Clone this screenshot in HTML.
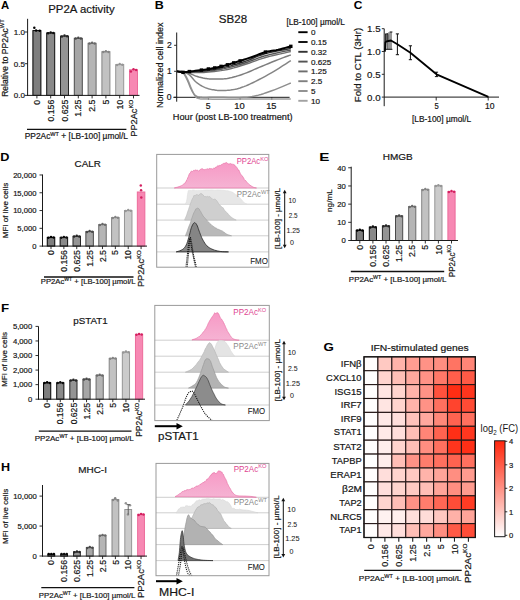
<!DOCTYPE html>
<html><head><meta charset="utf-8"><style>
html,body{margin:0;padding:0;background:#fff;width:520px;height:600px;overflow:hidden;position:relative;font-family:"Liberation Sans", sans-serif;}
</style></head><body>
<svg width="520" height="600" viewBox="0 0 520 600" style="position:absolute;left:0;top:0">
<defs><linearGradient id="pk" x1="0" y1="0" x2="0" y2="1"><stop offset="0" stop-color="#f799c5"/><stop offset="1" stop-color="#f5b3d3"/></linearGradient></defs>
<g font-family='"Liberation Sans", sans-serif'>
<text x="1.02" y="9.20" font-size="11.50" fill="#000" font-weight="bold" textLength="8.19" lengthAdjust="spacingAndGlyphs">A</text>
<text x="48.29" y="13.40" font-size="11.20" fill="#161616" stroke="#161616" stroke-width="0.2" textLength="66.42" lengthAdjust="spacingAndGlyphs">PP2A activity</text>
<rect x="32.90" y="30.60" width="8.00" height="64.80" fill="#7e7e7e" stroke="#000000" stroke-width="1.0"/>
<circle cx="34.30" cy="27.80" r="1.25" fill="#000000" stroke="none" stroke-width="0.6"/>
<circle cx="36.10" cy="30.60" r="1.25" fill="#000000" stroke="none" stroke-width="0.6"/>
<circle cx="39.70" cy="30.80" r="1.25" fill="#000000" stroke="none" stroke-width="0.6"/>
<rect x="46.70" y="32.90" width="8.00" height="62.50" fill="#898989" stroke="#0e0e0e" stroke-width="1.0"/>
<circle cx="48.10" cy="33.20" r="1.25" fill="#0e0e0e" stroke="none" stroke-width="0.6"/>
<circle cx="50.70" cy="32.40" r="1.25" fill="#0e0e0e" stroke="none" stroke-width="0.6"/>
<circle cx="53.30" cy="33.10" r="1.25" fill="#0e0e0e" stroke="none" stroke-width="0.6"/>
<rect x="60.50" y="36.10" width="8.00" height="59.30" fill="#949494" stroke="#262626" stroke-width="1.0"/>
<circle cx="61.90" cy="36.40" r="1.25" fill="#262626" stroke="none" stroke-width="0.6"/>
<circle cx="64.50" cy="35.60" r="1.25" fill="#262626" stroke="none" stroke-width="0.6"/>
<circle cx="67.10" cy="36.30" r="1.25" fill="#262626" stroke="none" stroke-width="0.6"/>
<rect x="74.30" y="38.30" width="8.00" height="57.10" fill="#a6a6a6" stroke="#4a4a4a" stroke-width="1.0"/>
<circle cx="75.70" cy="38.60" r="1.25" fill="#4a4a4a" stroke="none" stroke-width="0.6"/>
<circle cx="78.30" cy="37.80" r="1.25" fill="#4a4a4a" stroke="none" stroke-width="0.6"/>
<circle cx="80.90" cy="38.50" r="1.25" fill="#4a4a4a" stroke="none" stroke-width="0.6"/>
<rect x="88.10" y="43.30" width="8.00" height="52.10" fill="#b5b5b5" stroke="#6a6a6a" stroke-width="1.0"/>
<circle cx="89.50" cy="43.60" r="1.25" fill="#6a6a6a" stroke="none" stroke-width="0.6"/>
<circle cx="92.10" cy="42.80" r="1.25" fill="#6a6a6a" stroke="none" stroke-width="0.6"/>
<circle cx="94.70" cy="43.50" r="1.25" fill="#6a6a6a" stroke="none" stroke-width="0.6"/>
<rect x="101.90" y="51.70" width="8.00" height="43.70" fill="#c2c2c2" stroke="#858585" stroke-width="1.0"/>
<circle cx="103.30" cy="52.00" r="1.25" fill="#858585" stroke="none" stroke-width="0.6"/>
<circle cx="105.90" cy="51.20" r="1.25" fill="#858585" stroke="none" stroke-width="0.6"/>
<circle cx="108.50" cy="51.90" r="1.25" fill="#858585" stroke="none" stroke-width="0.6"/>
<rect x="115.70" y="64.60" width="8.00" height="30.80" fill="#cbcbcb" stroke="#969696" stroke-width="1.0"/>
<circle cx="117.10" cy="64.90" r="1.25" fill="#969696" stroke="none" stroke-width="0.6"/>
<circle cx="119.70" cy="64.10" r="1.25" fill="#969696" stroke="none" stroke-width="0.6"/>
<circle cx="122.30" cy="64.80" r="1.25" fill="#969696" stroke="none" stroke-width="0.6"/>
<rect x="129.50" y="69.80" width="8.00" height="25.60" fill="#f788b3" stroke="#ec6b9b" stroke-width="1.0"/>
<circle cx="130.90" cy="71.40" r="1.25" fill="#d42060" stroke="none" stroke-width="0.6"/>
<circle cx="133.50" cy="69.20" r="1.25" fill="#d42060" stroke="none" stroke-width="0.6"/>
<circle cx="136.10" cy="70.10" r="1.25" fill="#d42060" stroke="none" stroke-width="0.6"/>
<line x1="27.60" y1="18.80" x2="27.60" y2="95.90" stroke="#1a1a1a" stroke-width="1" stroke-linecap="butt"/>
<line x1="27.10" y1="95.40" x2="139.50" y2="95.40" stroke="#1a1a1a" stroke-width="1" stroke-linecap="butt"/>
<line x1="24.60" y1="32.00" x2="27.60" y2="32.00" stroke="#1a1a1a" stroke-width="0.9" stroke-linecap="butt"/>
<text x="24.88" y="34.88" font-size="8.00" fill="#161616" stroke="#161616" stroke-width="0.2" text-anchor="end">1.0</text>
<line x1="24.60" y1="63.70" x2="27.60" y2="63.70" stroke="#1a1a1a" stroke-width="0.9" stroke-linecap="butt"/>
<text x="24.92" y="66.58" font-size="8.00" fill="#161616" stroke="#161616" stroke-width="0.2" text-anchor="end">0.5</text>
<line x1="24.60" y1="95.40" x2="27.60" y2="95.40" stroke="#1a1a1a" stroke-width="0.9" stroke-linecap="butt"/>
<text x="24.88" y="98.28" font-size="8.00" fill="#161616" stroke="#161616" stroke-width="0.2" text-anchor="end">0.0</text>
<line x1="36.90" y1="95.40" x2="36.90" y2="98.40" stroke="#1a1a1a" stroke-width="0.9" stroke-linecap="butt"/>
<line x1="50.70" y1="95.40" x2="50.70" y2="98.40" stroke="#1a1a1a" stroke-width="0.9" stroke-linecap="butt"/>
<line x1="64.50" y1="95.40" x2="64.50" y2="98.40" stroke="#1a1a1a" stroke-width="0.9" stroke-linecap="butt"/>
<line x1="78.30" y1="95.40" x2="78.30" y2="98.40" stroke="#1a1a1a" stroke-width="0.9" stroke-linecap="butt"/>
<line x1="92.10" y1="95.40" x2="92.10" y2="98.40" stroke="#1a1a1a" stroke-width="0.9" stroke-linecap="butt"/>
<line x1="105.90" y1="95.40" x2="105.90" y2="98.40" stroke="#1a1a1a" stroke-width="0.9" stroke-linecap="butt"/>
<line x1="119.70" y1="95.40" x2="119.70" y2="98.40" stroke="#1a1a1a" stroke-width="0.9" stroke-linecap="butt"/>
<line x1="133.50" y1="95.40" x2="133.50" y2="98.40" stroke="#1a1a1a" stroke-width="0.9" stroke-linecap="butt"/>
<text transform="translate(40.03,99.79) rotate(-90)" font-size="8.70" fill="#161616" stroke="#161616" stroke-width="0.2" text-anchor="end">0</text>
<text transform="translate(53.83,99.73) rotate(-90)" font-size="8.70" fill="#161616" stroke="#161616" stroke-width="0.2" text-anchor="end">0.156</text>
<text transform="translate(67.63,99.73) rotate(-90)" font-size="8.70" fill="#161616" stroke="#161616" stroke-width="0.2" text-anchor="end">0.625</text>
<text transform="translate(81.43,99.74) rotate(-90)" font-size="8.70" fill="#161616" stroke="#161616" stroke-width="0.2" text-anchor="end">1.25</text>
<text transform="translate(95.23,99.75) rotate(-90)" font-size="8.70" fill="#161616" stroke="#161616" stroke-width="0.2" text-anchor="end">2.5</text>
<text transform="translate(109.03,99.74) rotate(-90)" font-size="8.70" fill="#161616" stroke="#161616" stroke-width="0.2" text-anchor="end">5</text>
<text transform="translate(122.83,99.78) rotate(-90)" font-size="8.70" fill="#161616" stroke="#161616" stroke-width="0.2" text-anchor="end">10</text>
<text transform="translate(136.63,136.63) rotate(-90)" font-size="8.70" fill="#161616" stroke="#161616" stroke-width="0.2" textLength="36.84" lengthAdjust="spacingAndGlyphs"><tspan>PP2Ac</tspan><tspan dy="-3.48" font-size="5.74">KO</tspan></text>
<line x1="27.00" y1="129.40" x2="126.40" y2="129.40" stroke="#111" stroke-width="1.4" stroke-linecap="butt"/>
<text x="24.73" y="138.80" font-size="8.20" fill="#161616" stroke="#161616" stroke-width="0.2" textLength="103.22" lengthAdjust="spacingAndGlyphs"><tspan>PP2Ac</tspan><tspan dy="-3.28" font-size="5.41">WT</tspan><tspan dy="3.28"> + [LB-100] µmol/L</tspan></text>
<text transform="translate(7.70,96.78) rotate(-90)" font-size="8.40" fill="#161616" stroke="#161616" stroke-width="0.2" textLength="77.39" lengthAdjust="spacingAndGlyphs"><tspan>Relative to PP2Ac</tspan><tspan dy="-3.36" font-size="5.54">WT</tspan></text>
<text x="154.69" y="9.20" font-size="11.50" fill="#000" font-weight="bold" textLength="9.00" lengthAdjust="spacingAndGlyphs">B</text>
<text x="218.88" y="22.60" font-size="11.40" fill="#161616" stroke="#161616" stroke-width="0.2" textLength="28.30" lengthAdjust="spacingAndGlyphs">SB28</text>
<line x1="176.70" y1="32.50" x2="176.70" y2="101.70" stroke="#1a1a1a" stroke-width="1" stroke-linecap="butt"/>
<line x1="173.30" y1="97.30" x2="289.60" y2="97.30" stroke="#1a1a1a" stroke-width="1" stroke-linecap="butt"/>
<line x1="174.10" y1="45.30" x2="176.70" y2="45.30" stroke="#1a1a1a" stroke-width="0.9" stroke-linecap="butt"/>
<text x="171.74" y="48.40" font-size="8.60" fill="#161616" stroke="#161616" stroke-width="0.2" text-anchor="end">2</text>
<line x1="174.10" y1="71.30" x2="176.70" y2="71.30" stroke="#1a1a1a" stroke-width="0.9" stroke-linecap="butt"/>
<text x="171.70" y="74.40" font-size="8.60" fill="#161616" stroke="#161616" stroke-width="0.2" text-anchor="end">1</text>
<line x1="174.10" y1="97.30" x2="176.70" y2="97.30" stroke="#1a1a1a" stroke-width="0.9" stroke-linecap="butt"/>
<text x="171.61" y="100.40" font-size="8.60" fill="#161616" stroke="#161616" stroke-width="0.2" text-anchor="end">0</text>
<line x1="208.40" y1="97.30" x2="208.40" y2="99.90" stroke="#1a1a1a" stroke-width="0.9" stroke-linecap="butt"/>
<line x1="240.10" y1="97.30" x2="240.10" y2="99.90" stroke="#1a1a1a" stroke-width="0.9" stroke-linecap="butt"/>
<line x1="271.80" y1="97.30" x2="271.80" y2="99.90" stroke="#1a1a1a" stroke-width="0.9" stroke-linecap="butt"/>
<text x="205.85" y="108.90" font-size="9.00" fill="#161616" stroke="#161616" stroke-width="0.2" textLength="4.80" lengthAdjust="spacingAndGlyphs">5</text>
<text x="234.19" y="108.90" font-size="9.00" fill="#161616" stroke="#161616" stroke-width="0.2" textLength="10.46" lengthAdjust="spacingAndGlyphs">10</text>
<text x="266.21" y="108.90" font-size="9.00" fill="#161616" stroke="#161616" stroke-width="0.2" textLength="10.28" lengthAdjust="spacingAndGlyphs">15</text>
<text x="172.76" y="119.60" font-size="9.00" fill="#161616" stroke="#161616" stroke-width="0.2" textLength="119.80" lengthAdjust="spacingAndGlyphs">Hour (post LB-100 treatment)</text>
<text transform="translate(163.00,108.12) rotate(-90)" font-size="8.80" fill="#161616" stroke="#161616" stroke-width="0.2" textLength="85.70" lengthAdjust="spacingAndGlyphs">Normalized cell index</text>
<path d="M176.70,71.30 L177.34,71.29 L178.23,71.23 L179.28,71.19 L180.39,71.22 L181.46,71.41 L182.41,71.82 L183.22,72.45 L183.98,73.25 L184.70,74.19 L185.41,75.28 L186.12,76.48 L186.84,77.80 L187.59,79.31 L188.35,81.04 L189.10,82.89 L189.85,84.76 L190.58,86.57 L191.28,88.20 L191.95,89.71 L192.60,91.19 L193.22,92.59 L193.84,93.88 L194.46,95.03 L195.09,96.00 L195.65,96.76 L196.14,97.33 L196.63,97.75 L197.20,98.08 L197.93,98.35 L198.89,98.60 L199.89,98.81 L200.82,98.95 L201.90,99.02 L203.37,99.06 L205.46,99.09 L208.40,99.12 L212.47,99.15 L217.56,99.16 L223.26,99.15 L229.18,99.14 L234.93,99.13 L240.10,99.12 L244.69,99.12 L249.02,99.12 L253.18,99.12 L257.24,99.12 L261.31,99.12 L265.46,99.12 L269.98,99.12 L274.85,99.12 L279.72,99.12 L284.25,99.12 L288.06,99.12 L290.82,99.12" fill="none" stroke="#a0a0a0" stroke-width="1.5" stroke-linejoin="round"/>
<path d="M176.70,71.30 L177.34,71.31 L178.23,71.27 L179.28,71.25 L180.39,71.33 L181.46,71.58 L182.41,72.08 L183.22,72.85 L183.98,73.83 L184.70,74.99 L185.41,76.28 L186.12,77.66 L186.84,79.10 L187.58,80.69 L188.32,82.47 L189.06,84.35 L189.80,86.22 L190.54,87.97 L191.28,89.50 L192.00,90.83 L192.69,92.06 L193.38,93.17 L194.10,94.16 L194.87,95.02 L195.72,95.74 L196.59,96.29 L197.46,96.66 L198.37,96.91 L199.41,97.07 L200.61,97.18 L202.06,97.30 L203.62,97.39 L205.23,97.42 L207.01,97.40 L209.10,97.36 L211.64,97.32 L214.74,97.30 L218.76,97.32 L223.66,97.36 L229.00,97.40 L234.35,97.42 L239.25,97.39 L243.27,97.30 L246.26,97.17 L248.55,97.02 L250.40,96.83 L252.08,96.57 L253.84,96.21 L255.95,95.74 L258.37,95.15 L260.88,94.45 L263.48,93.66 L266.16,92.78 L268.94,91.83 L271.80,90.80 L275.01,89.58 L278.61,88.12 L282.30,86.59 L285.77,85.13 L288.71,83.88 L290.82,83.00" fill="none" stroke="#8e8e8e" stroke-width="1.5" stroke-linejoin="round"/>
<path d="M176.70,71.30 L177.39,71.33 L178.34,71.34 L179.47,71.36 L180.69,71.43 L181.91,71.58 L183.04,71.82 L184.10,72.15 L185.15,72.53 L186.21,72.99 L187.27,73.53 L188.32,74.18 L189.38,74.94 L190.44,75.88 L191.49,77.01 L192.55,78.24 L193.61,79.49 L194.66,80.67 L195.72,81.70 L196.78,82.59 L197.83,83.41 L198.89,84.17 L199.95,84.87 L201.00,85.52 L202.06,86.12 L203.12,86.67 L204.17,87.17 L205.23,87.61 L206.29,88.02 L207.34,88.38 L208.40,88.72 L209.46,89.02 L210.51,89.28 L211.57,89.50 L212.63,89.69 L213.68,89.86 L214.74,90.02 L215.76,90.16 L216.74,90.29 L217.71,90.39 L218.73,90.47 L219.84,90.52 L221.08,90.54 L222.48,90.53 L224.02,90.50 L225.64,90.44 L227.30,90.35 L228.97,90.21 L230.59,90.02 L232.14,89.80 L233.64,89.56 L235.15,89.27 L236.70,88.92 L238.33,88.49 L240.10,87.94 L241.96,87.31 L243.86,86.62 L245.85,85.84 L247.97,84.95 L250.26,83.93 L252.78,82.74 L255.58,81.36 L258.65,79.79 L261.89,78.09 L265.23,76.30 L268.56,74.45 L271.80,72.60 L275.19,70.57 L278.84,68.31 L282.50,65.99 L285.89,63.81 L288.75,61.96 L290.82,60.64" fill="none" stroke="#858585" stroke-width="1.5" stroke-linejoin="round"/>
<path d="M176.70,71.30 L177.39,71.34 L178.34,71.40 L179.47,71.46 L180.69,71.55 L181.91,71.67 L183.04,71.82 L184.10,72.01 L185.15,72.22 L186.21,72.47 L187.27,72.74 L188.32,73.05 L189.38,73.38 L190.44,73.76 L191.49,74.20 L192.55,74.66 L193.61,75.13 L194.66,75.58 L195.72,75.98 L196.78,76.34 L197.83,76.67 L198.89,76.99 L199.95,77.28 L201.00,77.55 L202.06,77.80 L203.12,78.03 L204.17,78.23 L205.23,78.42 L206.29,78.58 L207.34,78.72 L208.40,78.84 L209.42,78.93 L210.40,79.00 L211.37,79.05 L212.39,79.08 L213.50,79.10 L214.74,79.10 L216.14,79.10 L217.68,79.11 L219.30,79.10 L220.96,79.06 L222.63,78.98 L224.25,78.84 L225.80,78.65 L227.30,78.44 L228.81,78.17 L230.36,77.86 L231.99,77.48 L233.76,77.02 L235.69,76.48 L237.75,75.85 L239.90,75.17 L242.10,74.43 L244.29,73.66 L246.44,72.86 L248.48,72.05 L250.43,71.22 L252.38,70.36 L254.42,69.44 L256.64,68.46 L259.12,67.40 L262.00,66.20 L265.23,64.86 L268.63,63.45 L272.03,62.06 L275.26,60.75 L278.14,59.60 L280.77,58.59 L283.31,57.64 L285.67,56.77 L287.77,56.02 L289.51,55.39 L290.82,54.92" fill="none" stroke="#7e7e7e" stroke-width="1.5" stroke-linejoin="round"/>
<path d="M176.70,71.30 L177.32,71.35 L178.11,71.43 L179.08,71.51 L180.22,71.61 L181.54,71.71 L183.04,71.82 L184.79,71.95 L186.80,72.11 L188.98,72.28 L191.26,72.43 L193.53,72.54 L195.72,72.60 L197.76,72.61 L199.71,72.60 L201.66,72.55 L203.70,72.46 L205.92,72.30 L208.40,72.08 L211.20,71.80 L214.27,71.47 L217.51,71.09 L220.85,70.64 L224.18,70.10 L227.42,69.48 L230.59,68.75 L233.76,67.91 L236.93,66.99 L240.10,66.02 L243.27,65.02 L246.44,64.02 L249.54,62.99 L252.55,61.91 L255.55,60.80 L258.65,59.69 L261.92,58.59 L265.46,57.52 L269.61,56.42 L274.38,55.27 L279.33,54.12 L284.01,53.07 L287.99,52.18 L290.82,51.54" fill="none" stroke="#707070" stroke-width="1.4" stroke-linejoin="round"/>
<path d="M176.70,71.30 L177.32,71.40 L178.11,71.54 L179.08,71.71 L180.22,71.87 L181.54,72.00 L183.04,72.08 L184.79,72.10 L186.80,72.09 L188.98,72.05 L191.26,71.98 L193.53,71.91 L195.72,71.82 L197.76,71.75 L199.71,71.69 L201.66,71.61 L203.70,71.49 L205.92,71.31 L208.40,71.04 L211.20,70.68 L214.27,70.26 L217.51,69.77 L220.85,69.22 L224.18,68.60 L227.42,67.92 L230.59,67.16 L233.76,66.32 L236.93,65.42 L240.10,64.46 L243.27,63.47 L246.44,62.46 L249.54,61.40 L252.55,60.26 L255.55,59.10 L258.65,57.92 L261.92,56.78 L265.46,55.70 L269.61,54.62 L274.38,53.50 L279.33,52.42 L284.01,51.42 L287.99,50.59 L290.82,49.98" fill="none" stroke="#555555" stroke-width="1.4" stroke-linejoin="round"/>
<path d="M176.70,71.30 L177.32,71.44 L178.11,71.65 L179.08,71.88 L180.22,72.11 L181.54,72.27 L183.04,72.34 L184.79,72.29 L186.80,72.16 L188.98,71.97 L191.26,71.74 L193.53,71.51 L195.72,71.30 L197.76,71.12 L199.71,70.96 L201.66,70.80 L203.70,70.60 L205.92,70.34 L208.40,70.00 L211.20,69.58 L214.27,69.11 L217.51,68.59 L220.85,68.00 L224.18,67.34 L227.42,66.62 L230.59,65.82 L233.76,64.94 L236.93,64.00 L240.10,63.01 L243.27,61.97 L246.44,60.90 L249.54,59.75 L252.55,58.51 L255.55,57.23 L258.65,55.95 L261.92,54.73 L265.46,53.62 L269.61,52.57 L274.38,51.54 L279.33,50.57 L284.01,49.69 L287.99,48.96 L290.82,48.42" fill="none" stroke="#333333" stroke-width="1.4" stroke-linejoin="round"/>
<path d="M176.70,71.30 L177.39,71.43 L178.34,71.64 L179.47,71.87 L180.69,72.09 L181.91,72.26 L183.04,72.34 L184.02,72.32 L184.92,72.24 L185.81,72.11 L186.80,71.95 L187.96,71.76 L189.38,71.56 L191.13,71.35 L193.14,71.12 L195.32,70.86 L197.60,70.59 L199.87,70.30 L202.06,70.00 L204.17,69.70 L206.29,69.38 L208.40,69.06 L210.51,68.71 L212.63,68.33 L214.74,67.92 L216.85,67.47 L218.97,66.99 L221.08,66.47 L223.19,65.94 L225.31,65.38 L227.42,64.80 L229.53,64.20 L231.65,63.57 L233.76,62.91 L235.87,62.25 L237.99,61.57 L240.10,60.90 L242.21,60.23 L244.33,59.55 L246.44,58.87 L248.55,58.17 L250.67,57.47 L252.78,56.74 L254.89,55.96 L257.01,55.13 L259.12,54.29 L261.23,53.47 L263.35,52.71 L265.46,52.06 L267.57,51.55 L269.69,51.15 L271.80,50.81 L273.91,50.49 L276.03,50.14 L278.14,49.72 L280.40,49.18 L282.84,48.55 L285.27,47.88 L287.53,47.25 L289.44,46.72 L290.82,46.34" fill="none" stroke="#000000" stroke-width="2.0" stroke-linejoin="round"/>
<rect x="181.34" y="70.64" width="3.40" height="3.40" fill="#000" stroke="none" stroke-width="1"/>
<rect x="187.68" y="69.86" width="3.40" height="3.40" fill="#000" stroke="none" stroke-width="1"/>
<rect x="199.73" y="68.38" width="3.40" height="3.40" fill="#000" stroke="none" stroke-width="1"/>
<rect x="206.70" y="67.26" width="3.40" height="3.40" fill="#000" stroke="none" stroke-width="1"/>
<rect x="213.04" y="66.22" width="3.40" height="3.40" fill="#000" stroke="none" stroke-width="1"/>
<rect x="219.38" y="64.66" width="3.40" height="3.40" fill="#000" stroke="none" stroke-width="1"/>
<rect x="225.72" y="63.10" width="3.40" height="3.40" fill="#000" stroke="none" stroke-width="1"/>
<rect x="232.06" y="61.15" width="3.40" height="3.40" fill="#000" stroke="none" stroke-width="1"/>
<rect x="238.40" y="59.20" width="3.40" height="3.40" fill="#000" stroke="none" stroke-width="1"/>
<rect x="263.76" y="50.36" width="3.40" height="3.40" fill="#000" stroke="none" stroke-width="1"/>
<rect x="289.12" y="44.64" width="3.40" height="3.40" fill="#000" stroke="none" stroke-width="1"/>
<text x="286.42" y="25.20" font-size="8.20" fill="#161616" stroke="#161616" stroke-width="0.2" textLength="58.52" lengthAdjust="spacingAndGlyphs">[LB-100] µmol/L</text>
<line x1="298.30" y1="32.20" x2="307.60" y2="32.20" stroke="#000" stroke-width="1.9" stroke-linecap="butt"/>
<text x="311.00" y="35.10" font-size="8.10" fill="#161616" stroke="#161616" stroke-width="0.2">0</text>
<line x1="298.30" y1="42.00" x2="307.60" y2="42.00" stroke="#0a0a0a" stroke-width="1.9" stroke-linecap="butt"/>
<text x="311.00" y="44.90" font-size="8.10" fill="#161616" stroke="#161616" stroke-width="0.2">0.15</text>
<line x1="298.30" y1="51.80" x2="307.60" y2="51.80" stroke="#333" stroke-width="1.9" stroke-linecap="butt"/>
<text x="311.00" y="54.70" font-size="8.10" fill="#161616" stroke="#161616" stroke-width="0.2">0.32</text>
<line x1="298.30" y1="61.60" x2="307.60" y2="61.60" stroke="#555" stroke-width="1.9" stroke-linecap="butt"/>
<text x="311.00" y="64.50" font-size="8.10" fill="#161616" stroke="#161616" stroke-width="0.2">0.625</text>
<line x1="298.30" y1="71.40" x2="307.60" y2="71.40" stroke="#6e6e6e" stroke-width="1.9" stroke-linecap="butt"/>
<text x="311.00" y="74.30" font-size="8.10" fill="#161616" stroke="#161616" stroke-width="0.2">1.25</text>
<line x1="298.30" y1="81.20" x2="307.60" y2="81.20" stroke="#808080" stroke-width="1.9" stroke-linecap="butt"/>
<text x="311.00" y="84.10" font-size="8.10" fill="#161616" stroke="#161616" stroke-width="0.2">2.5</text>
<line x1="298.30" y1="91.00" x2="307.60" y2="91.00" stroke="#8e8e8e" stroke-width="1.9" stroke-linecap="butt"/>
<text x="311.00" y="93.90" font-size="8.10" fill="#161616" stroke="#161616" stroke-width="0.2">5</text>
<line x1="298.30" y1="100.80" x2="307.60" y2="100.80" stroke="#a2a2a2" stroke-width="1.9" stroke-linecap="butt"/>
<text x="311.00" y="103.70" font-size="8.10" fill="#161616" stroke="#161616" stroke-width="0.2">10</text>
<text x="353.72" y="9.40" font-size="11.50" fill="#000" font-weight="bold" textLength="8.60" lengthAdjust="spacingAndGlyphs">C</text>
<line x1="384.20" y1="28.70" x2="384.20" y2="106.20" stroke="#1a1a1a" stroke-width="1" stroke-linecap="butt"/>
<line x1="384.20" y1="97.10" x2="499.00" y2="97.10" stroke="#1a1a1a" stroke-width="1" stroke-linecap="butt"/>
<line x1="381.80" y1="28.70" x2="384.20" y2="28.70" stroke="#1a1a1a" stroke-width="0.9" stroke-linecap="butt"/>
<text x="380.59" y="32.20" font-size="9.70" fill="#161616" stroke="#161616" stroke-width="0.2" text-anchor="end">1.5</text>
<line x1="381.80" y1="51.50" x2="384.20" y2="51.50" stroke="#1a1a1a" stroke-width="0.9" stroke-linecap="butt"/>
<text x="380.54" y="55.00" font-size="9.70" fill="#161616" stroke="#161616" stroke-width="0.2" text-anchor="end">1.0</text>
<line x1="381.80" y1="74.30" x2="384.20" y2="74.30" stroke="#1a1a1a" stroke-width="0.9" stroke-linecap="butt"/>
<text x="380.59" y="77.80" font-size="9.70" fill="#161616" stroke="#161616" stroke-width="0.2" text-anchor="end">0.5</text>
<line x1="381.80" y1="97.10" x2="384.20" y2="97.10" stroke="#1a1a1a" stroke-width="0.9" stroke-linecap="butt"/>
<text x="380.54" y="100.60" font-size="9.70" fill="#161616" stroke="#161616" stroke-width="0.2" text-anchor="end">0.0</text>
<line x1="436.20" y1="97.10" x2="436.20" y2="100.50" stroke="#1a1a1a" stroke-width="0.9" stroke-linecap="butt"/>
<line x1="488.20" y1="97.10" x2="488.20" y2="100.50" stroke="#1a1a1a" stroke-width="0.9" stroke-linecap="butt"/>
<text x="434.60" y="109.30" font-size="8.80" fill="#161616" stroke="#161616" stroke-width="0.2" textLength="4.22" lengthAdjust="spacingAndGlyphs">5</text>
<text x="485.06" y="109.30" font-size="8.80" fill="#161616" stroke="#161616" stroke-width="0.2" textLength="9.57" lengthAdjust="spacingAndGlyphs">10</text>
<text x="412.02" y="122.40" font-size="8.40" fill="#161616" stroke="#161616" stroke-width="0.2" textLength="59.13" lengthAdjust="spacingAndGlyphs">[LB-100] µmol/L</text>
<text transform="translate(361.20,102.17) rotate(-90)" font-size="9.50" fill="#161616" stroke="#161616" stroke-width="0.2" textLength="74.27" lengthAdjust="spacingAndGlyphs">Fold to CTL (3Hr)</text>
<rect x="385.00" y="34.30" width="3.60" height="7.00" fill="#8a8a8a" stroke="none" stroke-width="1"/>
<line x1="385.60" y1="34.00" x2="385.60" y2="49.30" stroke="#1a1a1a" stroke-width="0.9" stroke-linecap="butt"/>
<line x1="387.20" y1="33.00" x2="387.20" y2="49.30" stroke="#1a1a1a" stroke-width="0.9" stroke-linecap="butt"/>
<line x1="389.00" y1="32.30" x2="389.00" y2="49.30" stroke="#1a1a1a" stroke-width="0.9" stroke-linecap="butt"/>
<line x1="391.00" y1="32.00" x2="391.00" y2="49.30" stroke="#1a1a1a" stroke-width="0.9" stroke-linecap="butt"/>
<line x1="384.80" y1="49.30" x2="392.40" y2="49.30" stroke="#111" stroke-width="1.0" stroke-linecap="butt"/>
<line x1="389.60" y1="32.00" x2="392.40" y2="32.00" stroke="#111" stroke-width="1.0" stroke-linecap="butt"/>
<line x1="385.00" y1="34.00" x2="388.00" y2="34.00" stroke="#111" stroke-width="0.9" stroke-linecap="butt"/>
<line x1="397.40" y1="33.90" x2="397.40" y2="54.70" stroke="#111" stroke-width="1.0" stroke-linecap="butt"/>
<line x1="395.80" y1="33.90" x2="399.00" y2="33.90" stroke="#111" stroke-width="1.0" stroke-linecap="butt"/>
<line x1="395.80" y1="54.70" x2="399.00" y2="54.70" stroke="#111" stroke-width="1.0" stroke-linecap="butt"/>
<line x1="410.40" y1="45.80" x2="410.40" y2="59.70" stroke="#111" stroke-width="1.0" stroke-linecap="butt"/>
<line x1="408.80" y1="45.80" x2="412.00" y2="45.80" stroke="#111" stroke-width="1.0" stroke-linecap="butt"/>
<line x1="408.80" y1="59.70" x2="412.00" y2="59.70" stroke="#111" stroke-width="1.0" stroke-linecap="butt"/>
<line x1="436.50" y1="72.20" x2="436.50" y2="76.60" stroke="#111" stroke-width="1.0" stroke-linecap="butt"/>
<line x1="434.90" y1="72.20" x2="438.10" y2="72.20" stroke="#111" stroke-width="1.0" stroke-linecap="butt"/>
<line x1="434.90" y1="76.60" x2="438.10" y2="76.60" stroke="#111" stroke-width="1.0" stroke-linecap="butt"/>
<path d="M384.9,51.6 L385.4,42.2 L386.8,41.4 L388.6,41.0 L391.0,40.5 L397.4,44.3 L410.4,52.8 L436.5,74.3 L488.4,96.9" fill="none" stroke="#000" stroke-width="1.8" stroke-linejoin="round"/>
<text x="0.28" y="160.80" font-size="11.50" fill="#000" font-weight="bold" textLength="9.16" lengthAdjust="spacingAndGlyphs">D</text>
<text x="74.61" y="167.40" font-size="9.60" fill="#161616" stroke="#161616" stroke-width="0.2" textLength="26.16" lengthAdjust="spacingAndGlyphs">CALR</text>
<rect x="47.25" y="237.40" width="7.50" height="8.70" fill="#7e7e7e" stroke="#000000" stroke-width="1.0"/>
<circle cx="48.40" cy="237.70" r="1.25" fill="#000000" stroke="none" stroke-width="0.6"/>
<circle cx="51.00" cy="236.90" r="1.25" fill="#000000" stroke="none" stroke-width="0.6"/>
<circle cx="53.60" cy="237.60" r="1.25" fill="#000000" stroke="none" stroke-width="0.6"/>
<rect x="60.12" y="237.40" width="7.50" height="8.70" fill="#898989" stroke="#0e0e0e" stroke-width="1.0"/>
<circle cx="61.27" cy="237.70" r="1.25" fill="#0e0e0e" stroke="none" stroke-width="0.6"/>
<circle cx="63.87" cy="236.90" r="1.25" fill="#0e0e0e" stroke="none" stroke-width="0.6"/>
<circle cx="66.47" cy="237.60" r="1.25" fill="#0e0e0e" stroke="none" stroke-width="0.6"/>
<rect x="72.99" y="236.30" width="7.50" height="9.80" fill="#949494" stroke="#262626" stroke-width="1.0"/>
<circle cx="74.14" cy="236.60" r="1.25" fill="#262626" stroke="none" stroke-width="0.6"/>
<circle cx="76.74" cy="235.80" r="1.25" fill="#262626" stroke="none" stroke-width="0.6"/>
<circle cx="79.34" cy="236.50" r="1.25" fill="#262626" stroke="none" stroke-width="0.6"/>
<rect x="85.86" y="231.60" width="7.50" height="14.50" fill="#a6a6a6" stroke="#4a4a4a" stroke-width="1.0"/>
<circle cx="87.01" cy="231.90" r="1.25" fill="#4a4a4a" stroke="none" stroke-width="0.6"/>
<circle cx="89.61" cy="231.10" r="1.25" fill="#4a4a4a" stroke="none" stroke-width="0.6"/>
<circle cx="92.21" cy="231.80" r="1.25" fill="#4a4a4a" stroke="none" stroke-width="0.6"/>
<rect x="98.73" y="224.60" width="7.50" height="21.50" fill="#b5b5b5" stroke="#6a6a6a" stroke-width="1.0"/>
<circle cx="99.88" cy="224.90" r="1.25" fill="#6a6a6a" stroke="none" stroke-width="0.6"/>
<circle cx="102.48" cy="224.10" r="1.25" fill="#6a6a6a" stroke="none" stroke-width="0.6"/>
<circle cx="105.08" cy="224.80" r="1.25" fill="#6a6a6a" stroke="none" stroke-width="0.6"/>
<rect x="111.60" y="217.60" width="7.50" height="28.50" fill="#c2c2c2" stroke="#858585" stroke-width="1.0"/>
<circle cx="112.75" cy="217.90" r="1.25" fill="#858585" stroke="none" stroke-width="0.6"/>
<circle cx="115.35" cy="217.10" r="1.25" fill="#858585" stroke="none" stroke-width="0.6"/>
<circle cx="117.95" cy="217.80" r="1.25" fill="#858585" stroke="none" stroke-width="0.6"/>
<rect x="124.47" y="210.60" width="7.50" height="35.50" fill="#cbcbcb" stroke="#969696" stroke-width="1.0"/>
<circle cx="125.62" cy="210.90" r="1.25" fill="#969696" stroke="none" stroke-width="0.6"/>
<circle cx="128.22" cy="210.10" r="1.25" fill="#969696" stroke="none" stroke-width="0.6"/>
<circle cx="130.82" cy="210.80" r="1.25" fill="#969696" stroke="none" stroke-width="0.6"/>
<rect x="137.34" y="192.00" width="7.50" height="54.10" fill="#f788b3" stroke="#ec6b9b" stroke-width="1.0"/>
<circle cx="140.79" cy="185.60" r="1.25" fill="#d42060" stroke="none" stroke-width="0.6"/>
<circle cx="141.09" cy="190.30" r="1.25" fill="#d42060" stroke="none" stroke-width="0.6"/>
<circle cx="141.29" cy="197.50" r="1.25" fill="#d42060" stroke="none" stroke-width="0.6"/>
<line x1="42.50" y1="174.50" x2="42.50" y2="246.60" stroke="#1a1a1a" stroke-width="1" stroke-linecap="butt"/>
<line x1="42.00" y1="246.10" x2="147.00" y2="246.10" stroke="#1a1a1a" stroke-width="1" stroke-linecap="butt"/>
<line x1="39.50" y1="174.98" x2="42.50" y2="174.98" stroke="#1a1a1a" stroke-width="0.9" stroke-linecap="butt"/>
<text x="36.36" y="177.72" font-size="7.60" fill="#161616" stroke="#161616" stroke-width="0.2" text-anchor="end">20,000</text>
<line x1="39.50" y1="192.76" x2="42.50" y2="192.76" stroke="#1a1a1a" stroke-width="0.9" stroke-linecap="butt"/>
<text x="36.36" y="195.50" font-size="7.60" fill="#161616" stroke="#161616" stroke-width="0.2" text-anchor="end">15,000</text>
<line x1="39.50" y1="210.54" x2="42.50" y2="210.54" stroke="#1a1a1a" stroke-width="0.9" stroke-linecap="butt"/>
<text x="36.36" y="213.28" font-size="7.60" fill="#161616" stroke="#161616" stroke-width="0.2" text-anchor="end">10,000</text>
<line x1="39.50" y1="228.32" x2="42.50" y2="228.32" stroke="#1a1a1a" stroke-width="0.9" stroke-linecap="butt"/>
<text x="36.39" y="231.06" font-size="7.60" fill="#161616" stroke="#161616" stroke-width="0.2" text-anchor="end">5,000</text>
<line x1="39.50" y1="246.10" x2="42.50" y2="246.10" stroke="#1a1a1a" stroke-width="0.9" stroke-linecap="butt"/>
<text x="36.37" y="248.84" font-size="7.60" fill="#161616" stroke="#161616" stroke-width="0.2" text-anchor="end">0</text>
<line x1="51.00" y1="246.10" x2="51.00" y2="249.10" stroke="#1a1a1a" stroke-width="0.9" stroke-linecap="butt"/>
<line x1="63.87" y1="246.10" x2="63.87" y2="249.10" stroke="#1a1a1a" stroke-width="0.9" stroke-linecap="butt"/>
<line x1="76.74" y1="246.10" x2="76.74" y2="249.10" stroke="#1a1a1a" stroke-width="0.9" stroke-linecap="butt"/>
<line x1="89.61" y1="246.10" x2="89.61" y2="249.10" stroke="#1a1a1a" stroke-width="0.9" stroke-linecap="butt"/>
<line x1="102.48" y1="246.10" x2="102.48" y2="249.10" stroke="#1a1a1a" stroke-width="0.9" stroke-linecap="butt"/>
<line x1="115.35" y1="246.10" x2="115.35" y2="249.10" stroke="#1a1a1a" stroke-width="0.9" stroke-linecap="butt"/>
<line x1="128.22" y1="246.10" x2="128.22" y2="249.10" stroke="#1a1a1a" stroke-width="0.9" stroke-linecap="butt"/>
<line x1="141.09" y1="246.10" x2="141.09" y2="249.10" stroke="#1a1a1a" stroke-width="0.9" stroke-linecap="butt"/>
<text transform="translate(54.10,250.19) rotate(-90)" font-size="8.60" fill="#161616" stroke="#161616" stroke-width="0.2" text-anchor="end">0</text>
<text transform="translate(66.97,250.13) rotate(-90)" font-size="8.60" fill="#161616" stroke="#161616" stroke-width="0.2" text-anchor="end">0.156</text>
<text transform="translate(79.84,250.13) rotate(-90)" font-size="8.60" fill="#161616" stroke="#161616" stroke-width="0.2" text-anchor="end">0.625</text>
<text transform="translate(92.71,250.14) rotate(-90)" font-size="8.60" fill="#161616" stroke="#161616" stroke-width="0.2" text-anchor="end">1.25</text>
<text transform="translate(105.58,250.15) rotate(-90)" font-size="8.60" fill="#161616" stroke="#161616" stroke-width="0.2" text-anchor="end">2.5</text>
<text transform="translate(118.45,250.15) rotate(-90)" font-size="8.60" fill="#161616" stroke="#161616" stroke-width="0.2" text-anchor="end">5</text>
<text transform="translate(131.32,250.18) rotate(-90)" font-size="8.60" fill="#161616" stroke="#161616" stroke-width="0.2" text-anchor="end">10</text>
<text transform="translate(144.19,287.03) rotate(-90)" font-size="8.60" fill="#161616" stroke="#161616" stroke-width="0.2" textLength="36.84" lengthAdjust="spacingAndGlyphs"><tspan>PP2Ac</tspan><tspan dy="-3.44" font-size="5.68">KO</tspan></text>
<line x1="44.00" y1="277.00" x2="133.50" y2="277.00" stroke="#111" stroke-width="1.4" stroke-linecap="butt"/>
<text x="40.78" y="284.20" font-size="7.70" fill="#161616" stroke="#161616" stroke-width="0.2" textLength="94.74" lengthAdjust="spacingAndGlyphs"><tspan>PP2Ac</tspan><tspan dy="-3.08" font-size="5.08">WT</tspan><tspan dy="3.08"> + [LB-100] µmol/L</tspan></text>
<text transform="translate(7.70,238.35) rotate(-90)" font-size="8.00" fill="#161616" stroke="#161616" stroke-width="0.2" textLength="55.63" lengthAdjust="spacingAndGlyphs">MFI of live cells</text>
<line x1="156.70" y1="188.00" x2="268.80" y2="188.00" stroke="#c9c9c9" stroke-width="0.9" stroke-linecap="butt"/>
<line x1="156.70" y1="204.20" x2="268.80" y2="204.20" stroke="#c9c9c9" stroke-width="0.9" stroke-linecap="butt"/>
<line x1="156.70" y1="220.10" x2="268.80" y2="220.10" stroke="#c9c9c9" stroke-width="0.9" stroke-linecap="butt"/>
<line x1="156.70" y1="235.80" x2="268.80" y2="235.80" stroke="#c9c9c9" stroke-width="0.9" stroke-linecap="butt"/>
<line x1="156.70" y1="251.90" x2="268.80" y2="251.90" stroke="#c9c9c9" stroke-width="0.9" stroke-linecap="butt"/>
<path d="M174.30,188.00 L175.16,187.75 L176.39,187.41 L177.80,187.00 L179.20,186.56 L180.40,186.10 L181.40,185.65 L182.33,185.19 L183.19,184.48 L183.98,183.72 L184.70,183.68 L185.33,182.26 L185.86,182.03 L186.34,180.96 L186.81,179.67 L187.30,179.21 L187.82,177.49 L188.34,176.67 L188.86,174.90 L189.38,173.70 L189.90,173.11 L190.41,172.87 L190.90,171.49 L191.40,171.20 L191.92,171.35 L192.50,171.44 L193.16,170.73 L193.88,170.31 L194.63,170.87 L195.35,169.68 L196.00,170.63 L196.56,170.04 L197.07,170.07 L197.54,170.27 L198.01,170.66 L198.50,171.28 L199.00,170.30 L199.49,170.39 L199.99,170.00 L200.52,169.28 L201.10,169.26 L201.74,168.66 L202.44,168.78 L203.16,169.14 L203.89,169.87 L204.60,169.61 L205.29,169.38 L205.96,169.51 L206.64,169.13 L207.35,168.72 L208.10,169.15 L208.92,168.95 L209.81,168.36 L210.71,168.73 L211.58,168.63 L212.40,168.95 L213.15,168.63 L213.86,167.93 L214.54,168.57 L215.19,167.30 L215.80,167.40 L216.36,167.49 L216.85,166.39 L217.33,166.40 L217.84,165.48 L218.40,165.90 L219.06,165.75 L219.78,165.29 L220.52,165.44 L221.24,164.54 L221.90,164.73 L222.46,164.27 L222.96,163.85 L223.44,163.29 L223.94,163.42 L224.50,163.33 L225.14,162.72 L225.84,163.03 L226.56,162.45 L227.29,163.39 L228.00,163.48 L228.68,164.00 L229.36,163.90 L230.04,163.38 L230.72,163.66 L231.40,164.20 L232.10,163.67 L232.80,164.45 L233.50,164.41 L234.20,164.74 L234.90,165.17 L235.60,166.67 L236.31,166.68 L237.00,167.67 L237.67,168.71 L238.30,170.15 L238.86,170.02 L239.35,171.29 L239.83,172.26 L240.34,173.54 L240.90,174.38 L241.54,175.43 L242.24,175.79 L242.96,177.04 L243.69,178.03 L244.40,179.66 L245.07,180.68 L245.72,180.60 L246.38,181.49 L247.10,182.38 L247.90,183.18 L248.84,184.27 L249.90,185.08 L251.00,185.82 L252.06,186.47 L253.00,187.00 L253.86,187.38 L254.68,187.63 L255.43,187.79 L256.05,187.90 L256.50,188.00 Z" fill="url(#pk)" stroke="#e5689f" stroke-width="0.6" stroke-linejoin="round"/>
<path d="M185.00,204.20 L185.20,203.90 L185.48,203.55 L185.81,203.05 L186.16,202.30 L186.50,201.20 L186.83,199.55 L187.16,197.12 L187.50,194.58 L187.85,192.67 L188.20,191.12 L188.42,190.48 L188.52,190.46 L188.68,190.35 L189.11,190.38 L190.00,190.47 L191.40,190.42 L193.17,190.00 L195.25,190.48 L197.55,190.39 L200.00,190.42 L202.76,190.36 L205.88,190.10 L209.12,190.09 L212.24,189.93 L215.00,190.28 L217.37,189.99 L219.50,190.06 L221.46,190.23 L223.27,190.33 L225.00,190.60 L226.61,190.63 L228.06,190.81 L229.42,191.16 L230.71,191.48 L232.00,192.12 L233.27,192.52 L234.48,193.75 L235.66,194.40 L236.83,195.02 L238.00,196.05 L239.21,197.24 L240.46,198.57 L241.68,199.77 L242.81,201.22 L243.80,202.20 L244.66,202.89 L245.42,203.38 L246.08,203.74 L246.61,203.99 L247.00,204.20 Z" fill="#e7e7e7" stroke="#dadada" stroke-width="0.5" stroke-linejoin="round"/>
<path d="M184.60,220.10 L185.12,218.70 L185.85,217.09 L186.70,214.93 L187.61,211.95 L188.50,209.58 L189.40,206.68 L190.36,203.93 L191.33,201.43 L192.26,198.91 L193.10,197.63 L193.83,195.82 L194.49,195.07 L195.09,195.73 L195.66,195.18 L196.20,194.65 L196.70,194.92 L197.14,194.43 L197.57,195.03 L198.01,195.54 L198.50,195.36 L199.07,194.93 L199.68,194.09 L200.32,193.77 L200.93,193.25 L201.50,193.77 L201.99,193.77 L202.43,194.50 L202.86,194.64 L203.30,195.10 L203.80,196.11 L204.37,196.53 L204.98,196.54 L205.62,196.60 L206.27,196.70 L206.90,196.74 L207.53,196.37 L208.18,196.80 L208.82,196.78 L209.43,196.62 L210.00,196.83 L210.50,197.35 L210.94,197.64 L211.36,198.41 L211.80,198.99 L212.30,198.75 L212.86,199.38 L213.45,199.48 L214.07,199.50 L214.72,199.07 L215.40,199.32 L216.11,200.01 L216.86,200.90 L217.64,201.93 L218.42,203.39 L219.20,204.60 L219.98,205.35 L220.76,205.76 L221.54,206.68 L222.32,207.59 L223.10,207.68 L223.85,209.14 L224.59,210.30 L225.33,211.11 L226.09,212.02 L226.90,212.68 L227.77,213.33 L228.68,214.92 L229.61,215.42 L230.56,216.80 L231.50,217.30 L232.51,218.02 L233.60,218.68 L234.65,219.27 L235.56,219.75 L236.20,220.10 Z" fill="#cfcfcf" stroke="#b8b8b8" stroke-width="0.6" stroke-linejoin="round"/>
<path d="M185.40,235.80 L186.03,234.13 L186.91,232.05 L187.94,228.95 L189.01,226.10 L190.00,223.77 L190.95,221.03 L191.93,217.94 L192.89,215.23 L193.80,212.86 L194.60,211.44 L195.28,210.09 L195.86,208.83 L196.38,208.71 L196.88,208.52 L197.40,208.19 L197.92,208.08 L198.43,208.51 L198.93,208.78 L199.45,209.36 L200.00,210.68 L200.58,211.38 L201.17,212.39 L201.79,213.81 L202.43,214.68 L203.10,216.02 L203.80,216.97 L204.53,217.52 L205.29,218.45 L206.08,219.37 L206.90,220.24 L207.77,221.40 L208.68,222.17 L209.61,223.22 L210.56,223.95 L211.50,225.25 L212.41,225.63 L213.31,226.32 L214.21,226.98 L215.17,227.75 L216.20,228.05 L217.35,228.97 L218.61,229.35 L219.90,229.99 L221.15,230.60 L222.30,230.91 L223.32,231.79 L224.25,232.28 L225.13,233.11 L226.00,233.69 L226.90,234.20 L227.89,234.64 L228.96,235.02 L229.99,235.34 L230.87,235.60 L231.50,235.80 Z" fill="#b9b9b9" stroke="#9d9d9d" stroke-width="0.6" stroke-linejoin="round"/>
<path d="M176.20,251.90 L177.06,251.62 L178.31,251.26 L179.73,250.80 L181.12,250.24 L182.30,249.60 L183.24,248.90 L184.06,248.15 L184.81,247.28 L185.51,246.25 L186.20,245.00 L186.87,243.44 L187.50,241.62 L188.09,239.65 L188.66,237.67 L189.20,235.80 L189.70,233.99 L190.15,232.16 L190.58,230.39 L191.02,228.74 L191.50,227.30 L192.03,226.02 L192.59,224.85 L193.17,223.86 L193.74,223.12 L194.30,222.70 L194.84,222.66 L195.37,222.94 L195.89,223.47 L196.40,224.18 L196.90,225.00 L197.37,225.97 L197.80,227.13 L198.24,228.43 L198.69,229.81 L199.20,231.20 L199.74,232.64 L200.31,234.17 L200.91,235.74 L201.57,237.30 L202.30,238.80 L203.10,240.29 L203.96,241.80 L204.87,243.26 L205.85,244.61 L206.90,245.80 L208.01,246.80 L209.19,247.64 L210.44,248.37 L211.74,249.01 L213.10,249.60 L214.54,250.13 L216.07,250.57 L217.65,250.94 L219.24,251.25 L220.80,251.50 L222.46,251.68 L224.25,251.79 L225.97,251.84 L227.45,251.87 L228.50,251.90 Z" fill="#858585" stroke="#262626" stroke-width="0.8" stroke-linejoin="round"/>
<path d="M186.00,266.80 L186.22,264.89 L186.52,262.18 L186.88,259.04 L187.25,255.79 L187.60,252.80 L187.93,249.83 L188.27,246.64 L188.60,243.60 L188.92,241.03 L189.20,239.30 L189.42,238.47 L189.58,238.32 L189.74,238.72 L189.93,239.59 L190.20,240.80 L190.57,242.50 L191.00,244.75 L191.47,247.35 L191.98,250.10 L192.50,252.80 L193.09,255.70 L193.76,258.93 L194.42,262.11 L195.00,264.86 L195.40,266.80" fill="none" stroke="#111" stroke-width="1.1" stroke-dasharray="1.1,1.0"/>
<path d="M187.20,266.80 L187.39,264.90 L187.66,262.23 L187.97,259.11 L188.30,255.86 L188.60,252.80 L188.88,249.66 L189.17,246.22 L189.45,242.90 L189.73,240.12 L190.00,238.30 L190.24,237.53 L190.44,237.52 L190.65,238.16 L190.89,239.29 L191.20,240.80 L191.58,242.90 L192.01,245.67 L192.48,248.79 L192.98,251.94 L193.50,254.80 L194.09,257.52 L194.76,260.32 L195.42,262.96 L196.00,265.20 L196.40,266.80" fill="none" stroke="#111" stroke-width="1.1" stroke-dasharray="1.1,1.0"/>
<rect x="156.70" y="154.40" width="112.10" height="112.80" fill="none" stroke="#9a9a9a" stroke-width="1"/>
<text x="236.68" y="164.10" font-size="8.60" fill="#de4490"><tspan textLength="23.53" lengthAdjust="spacingAndGlyphs">PP2Ac</tspan><tspan dy="-3.44" font-size="5.68">KO</tspan></text>
<text x="236.67" y="197.10" font-size="8.60" fill="#8a8a8a"><tspan textLength="24.25" lengthAdjust="spacingAndGlyphs">PP2Ac</tspan><tspan dy="-3.44" font-size="5.68">WT</tspan></text>
<text x="250.16" y="264.20" font-size="8.60" fill="#1a1a1a" stroke="#1a1a1a" stroke-width="0.08" textLength="17.71" lengthAdjust="spacingAndGlyphs">FMO</text>
<line x1="284.70" y1="192.50" x2="284.70" y2="245.50" stroke="#111" stroke-width="1" stroke-linecap="butt"/>
<path d="M282.80,193.20 L284.70,189.70 L286.60,193.20 Z" fill="#111"/>
<path d="M282.80,244.80 L284.70,248.30 L286.60,244.80 Z" fill="#111"/>
<text x="288.50" y="202.60" font-size="7.40" fill="#1a1a1a" stroke="#1a1a1a" stroke-width="0.05" textLength="7.45" lengthAdjust="spacingAndGlyphs">10</text>
<text x="288.68" y="218.30" font-size="7.40" fill="#1a1a1a" stroke="#1a1a1a" stroke-width="0.05" textLength="8.88" lengthAdjust="spacingAndGlyphs">2.5</text>
<text x="286.48" y="233.30" font-size="7.40" fill="#1a1a1a" stroke="#1a1a1a" stroke-width="0.05" textLength="13.51" lengthAdjust="spacingAndGlyphs">1.25</text>
<text x="290.02" y="245.30" font-size="7.40" fill="#1a1a1a" stroke="#1a1a1a" stroke-width="0.05" textLength="3.94" lengthAdjust="spacingAndGlyphs">0</text>
<text transform="translate(279.60,248.95) rotate(-90)" font-size="7.60" fill="#161616" stroke="#161616" stroke-width="0.2" textLength="60.90" lengthAdjust="spacingAndGlyphs">[LB-100] - µmol/L</text>
<text x="319.31" y="161.00" font-size="11.50" fill="#000" font-weight="bold" textLength="10.15" lengthAdjust="spacingAndGlyphs">E</text>
<text x="382.70" y="160.20" font-size="9.80" fill="#161616" stroke="#161616" stroke-width="0.2" textLength="30.00" lengthAdjust="spacingAndGlyphs">HMGB</text>
<rect x="356.20" y="230.30" width="7.20" height="10.20" fill="#7e7e7e" stroke="#000000" stroke-width="1.0"/>
<circle cx="357.20" cy="230.60" r="1.25" fill="#000000" stroke="none" stroke-width="0.6"/>
<circle cx="359.80" cy="229.80" r="1.25" fill="#000000" stroke="none" stroke-width="0.6"/>
<circle cx="362.40" cy="230.50" r="1.25" fill="#000000" stroke="none" stroke-width="0.6"/>
<rect x="369.30" y="227.10" width="7.20" height="13.40" fill="#898989" stroke="#0e0e0e" stroke-width="1.0"/>
<circle cx="370.30" cy="227.40" r="1.25" fill="#0e0e0e" stroke="none" stroke-width="0.6"/>
<circle cx="372.90" cy="226.60" r="1.25" fill="#0e0e0e" stroke="none" stroke-width="0.6"/>
<circle cx="375.50" cy="227.30" r="1.25" fill="#0e0e0e" stroke="none" stroke-width="0.6"/>
<rect x="382.40" y="226.00" width="7.20" height="14.50" fill="#949494" stroke="#262626" stroke-width="1.0"/>
<circle cx="383.40" cy="226.30" r="1.25" fill="#262626" stroke="none" stroke-width="0.6"/>
<circle cx="386.00" cy="225.50" r="1.25" fill="#262626" stroke="none" stroke-width="0.6"/>
<circle cx="388.60" cy="226.20" r="1.25" fill="#262626" stroke="none" stroke-width="0.6"/>
<rect x="395.50" y="216.00" width="7.20" height="24.50" fill="#a6a6a6" stroke="#4a4a4a" stroke-width="1.0"/>
<circle cx="396.50" cy="216.30" r="1.25" fill="#4a4a4a" stroke="none" stroke-width="0.6"/>
<circle cx="399.10" cy="215.50" r="1.25" fill="#4a4a4a" stroke="none" stroke-width="0.6"/>
<circle cx="401.70" cy="216.20" r="1.25" fill="#4a4a4a" stroke="none" stroke-width="0.6"/>
<rect x="408.60" y="206.60" width="7.20" height="33.90" fill="#b5b5b5" stroke="#6a6a6a" stroke-width="1.0"/>
<circle cx="409.60" cy="206.90" r="1.25" fill="#6a6a6a" stroke="none" stroke-width="0.6"/>
<circle cx="412.20" cy="206.10" r="1.25" fill="#6a6a6a" stroke="none" stroke-width="0.6"/>
<circle cx="414.80" cy="206.80" r="1.25" fill="#6a6a6a" stroke="none" stroke-width="0.6"/>
<rect x="421.70" y="189.60" width="7.20" height="50.90" fill="#c2c2c2" stroke="#858585" stroke-width="1.0"/>
<circle cx="422.70" cy="189.90" r="1.25" fill="#858585" stroke="none" stroke-width="0.6"/>
<circle cx="425.30" cy="189.10" r="1.25" fill="#858585" stroke="none" stroke-width="0.6"/>
<circle cx="427.90" cy="189.80" r="1.25" fill="#858585" stroke="none" stroke-width="0.6"/>
<rect x="434.80" y="185.80" width="7.20" height="54.70" fill="#cbcbcb" stroke="#969696" stroke-width="1.0"/>
<circle cx="435.80" cy="186.10" r="1.25" fill="#969696" stroke="none" stroke-width="0.6"/>
<circle cx="438.40" cy="185.30" r="1.25" fill="#969696" stroke="none" stroke-width="0.6"/>
<circle cx="441.00" cy="186.00" r="1.25" fill="#969696" stroke="none" stroke-width="0.6"/>
<rect x="447.90" y="191.60" width="7.20" height="48.90" fill="#f788b3" stroke="#ec6b9b" stroke-width="1.0"/>
<circle cx="448.90" cy="191.90" r="1.25" fill="#d42060" stroke="none" stroke-width="0.6"/>
<circle cx="451.50" cy="191.10" r="1.25" fill="#d42060" stroke="none" stroke-width="0.6"/>
<circle cx="454.10" cy="191.80" r="1.25" fill="#d42060" stroke="none" stroke-width="0.6"/>
<line x1="351.20" y1="166.70" x2="351.20" y2="241.00" stroke="#1a1a1a" stroke-width="1" stroke-linecap="butt"/>
<line x1="350.70" y1="240.50" x2="458.00" y2="240.50" stroke="#1a1a1a" stroke-width="1" stroke-linecap="butt"/>
<line x1="348.20" y1="167.78" x2="351.20" y2="167.78" stroke="#1a1a1a" stroke-width="0.9" stroke-linecap="butt"/>
<text x="345.69" y="170.55" font-size="7.70" fill="#161616" stroke="#161616" stroke-width="0.2" text-anchor="end">40</text>
<line x1="348.20" y1="185.96" x2="351.20" y2="185.96" stroke="#1a1a1a" stroke-width="0.9" stroke-linecap="butt"/>
<text x="345.69" y="188.73" font-size="7.70" fill="#161616" stroke="#161616" stroke-width="0.2" text-anchor="end">30</text>
<line x1="348.20" y1="204.14" x2="351.20" y2="204.14" stroke="#1a1a1a" stroke-width="0.9" stroke-linecap="butt"/>
<text x="345.69" y="206.91" font-size="7.70" fill="#161616" stroke="#161616" stroke-width="0.2" text-anchor="end">20</text>
<line x1="348.20" y1="222.32" x2="351.20" y2="222.32" stroke="#1a1a1a" stroke-width="0.9" stroke-linecap="butt"/>
<text x="345.69" y="225.09" font-size="7.70" fill="#161616" stroke="#161616" stroke-width="0.2" text-anchor="end">10</text>
<line x1="348.20" y1="240.50" x2="351.20" y2="240.50" stroke="#1a1a1a" stroke-width="0.9" stroke-linecap="butt"/>
<text x="345.68" y="243.27" font-size="7.70" fill="#161616" stroke="#161616" stroke-width="0.2" text-anchor="end">0</text>
<line x1="359.80" y1="240.50" x2="359.80" y2="243.50" stroke="#1a1a1a" stroke-width="0.9" stroke-linecap="butt"/>
<line x1="372.90" y1="240.50" x2="372.90" y2="243.50" stroke="#1a1a1a" stroke-width="0.9" stroke-linecap="butt"/>
<line x1="386.00" y1="240.50" x2="386.00" y2="243.50" stroke="#1a1a1a" stroke-width="0.9" stroke-linecap="butt"/>
<line x1="399.10" y1="240.50" x2="399.10" y2="243.50" stroke="#1a1a1a" stroke-width="0.9" stroke-linecap="butt"/>
<line x1="412.20" y1="240.50" x2="412.20" y2="243.50" stroke="#1a1a1a" stroke-width="0.9" stroke-linecap="butt"/>
<line x1="425.30" y1="240.50" x2="425.30" y2="243.50" stroke="#1a1a1a" stroke-width="0.9" stroke-linecap="butt"/>
<line x1="438.40" y1="240.50" x2="438.40" y2="243.50" stroke="#1a1a1a" stroke-width="0.9" stroke-linecap="butt"/>
<line x1="451.50" y1="240.50" x2="451.50" y2="243.50" stroke="#1a1a1a" stroke-width="0.9" stroke-linecap="butt"/>
<text transform="translate(362.97,244.88) rotate(-90)" font-size="8.80" fill="#161616" stroke="#161616" stroke-width="0.2" text-anchor="end">0</text>
<text transform="translate(376.07,244.83) rotate(-90)" font-size="8.80" fill="#161616" stroke="#161616" stroke-width="0.2" text-anchor="end">0.156</text>
<text transform="translate(389.17,244.83) rotate(-90)" font-size="8.80" fill="#161616" stroke="#161616" stroke-width="0.2" text-anchor="end">0.625</text>
<text transform="translate(402.27,244.84) rotate(-90)" font-size="8.80" fill="#161616" stroke="#161616" stroke-width="0.2" text-anchor="end">1.25</text>
<text transform="translate(415.37,244.85) rotate(-90)" font-size="8.80" fill="#161616" stroke="#161616" stroke-width="0.2" text-anchor="end">2.5</text>
<text transform="translate(428.47,244.84) rotate(-90)" font-size="8.80" fill="#161616" stroke="#161616" stroke-width="0.2" text-anchor="end">5</text>
<text transform="translate(441.57,244.87) rotate(-90)" font-size="8.80" fill="#161616" stroke="#161616" stroke-width="0.2" text-anchor="end">10</text>
<text transform="translate(454.67,277.14) rotate(-90)" font-size="8.80" fill="#161616" stroke="#161616" stroke-width="0.2" textLength="32.21" lengthAdjust="spacingAndGlyphs"><tspan>PP2Ac</tspan><tspan dy="-3.52" font-size="5.81">KO</tspan></text>
<line x1="350.80" y1="271.50" x2="444.20" y2="271.50" stroke="#111" stroke-width="1.4" stroke-linecap="butt"/>
<text x="348.87" y="282.40" font-size="7.90" fill="#161616" stroke="#161616" stroke-width="0.2" textLength="97.57" lengthAdjust="spacingAndGlyphs"><tspan>PP2Ac</tspan><tspan dy="-3.16" font-size="5.21">WT</tspan><tspan dy="3.16"> + [LB-100] µmol/L</tspan></text>
<text transform="translate(332.00,211.93) rotate(-90)" font-size="8.10" fill="#161616" stroke="#161616" stroke-width="0.2" textLength="22.67" lengthAdjust="spacingAndGlyphs">ng/mL</text>
<text x="1.03" y="311.70" font-size="11.50" fill="#000" font-weight="bold" textLength="8.14" lengthAdjust="spacingAndGlyphs">F</text>
<text x="73.27" y="324.10" font-size="9.60" fill="#161616" stroke="#161616" stroke-width="0.2" textLength="34.37" lengthAdjust="spacingAndGlyphs">pSTAT1</text>
<rect x="43.55" y="382.80" width="7.20" height="16.40" fill="#7e7e7e" stroke="#000000" stroke-width="1.0"/>
<circle cx="44.55" cy="383.10" r="1.25" fill="#000000" stroke="none" stroke-width="0.6"/>
<circle cx="47.15" cy="382.30" r="1.25" fill="#000000" stroke="none" stroke-width="0.6"/>
<circle cx="49.75" cy="383.00" r="1.25" fill="#000000" stroke="none" stroke-width="0.6"/>
<rect x="56.68" y="382.80" width="7.20" height="16.40" fill="#898989" stroke="#0e0e0e" stroke-width="1.0"/>
<circle cx="57.68" cy="383.10" r="1.25" fill="#0e0e0e" stroke="none" stroke-width="0.6"/>
<circle cx="60.28" cy="382.30" r="1.25" fill="#0e0e0e" stroke="none" stroke-width="0.6"/>
<circle cx="62.88" cy="383.00" r="1.25" fill="#0e0e0e" stroke="none" stroke-width="0.6"/>
<rect x="69.81" y="380.30" width="7.20" height="18.90" fill="#949494" stroke="#262626" stroke-width="1.0"/>
<circle cx="70.81" cy="380.60" r="1.25" fill="#262626" stroke="none" stroke-width="0.6"/>
<circle cx="73.41" cy="379.80" r="1.25" fill="#262626" stroke="none" stroke-width="0.6"/>
<circle cx="76.01" cy="380.50" r="1.25" fill="#262626" stroke="none" stroke-width="0.6"/>
<rect x="82.94" y="379.20" width="7.20" height="20.00" fill="#a6a6a6" stroke="#4a4a4a" stroke-width="1.0"/>
<circle cx="83.94" cy="379.50" r="1.25" fill="#4a4a4a" stroke="none" stroke-width="0.6"/>
<circle cx="86.54" cy="378.70" r="1.25" fill="#4a4a4a" stroke="none" stroke-width="0.6"/>
<circle cx="89.14" cy="379.40" r="1.25" fill="#4a4a4a" stroke="none" stroke-width="0.6"/>
<rect x="96.07" y="375.30" width="7.20" height="23.90" fill="#b5b5b5" stroke="#6a6a6a" stroke-width="1.0"/>
<circle cx="97.07" cy="375.60" r="1.25" fill="#6a6a6a" stroke="none" stroke-width="0.6"/>
<circle cx="99.67" cy="374.80" r="1.25" fill="#6a6a6a" stroke="none" stroke-width="0.6"/>
<circle cx="102.27" cy="375.50" r="1.25" fill="#6a6a6a" stroke="none" stroke-width="0.6"/>
<rect x="109.20" y="358.40" width="7.20" height="40.80" fill="#c2c2c2" stroke="#858585" stroke-width="1.0"/>
<circle cx="110.20" cy="358.70" r="1.25" fill="#858585" stroke="none" stroke-width="0.6"/>
<circle cx="112.80" cy="357.90" r="1.25" fill="#858585" stroke="none" stroke-width="0.6"/>
<circle cx="115.40" cy="358.60" r="1.25" fill="#858585" stroke="none" stroke-width="0.6"/>
<rect x="122.33" y="352.10" width="7.20" height="47.10" fill="#cbcbcb" stroke="#969696" stroke-width="1.0"/>
<circle cx="123.33" cy="352.40" r="1.25" fill="#969696" stroke="none" stroke-width="0.6"/>
<circle cx="125.93" cy="351.60" r="1.25" fill="#969696" stroke="none" stroke-width="0.6"/>
<circle cx="128.53" cy="352.30" r="1.25" fill="#969696" stroke="none" stroke-width="0.6"/>
<rect x="135.46" y="334.40" width="7.20" height="64.80" fill="#f788b3" stroke="#ec6b9b" stroke-width="1.0"/>
<circle cx="136.46" cy="334.70" r="1.25" fill="#d42060" stroke="none" stroke-width="0.6"/>
<circle cx="139.06" cy="333.90" r="1.25" fill="#d42060" stroke="none" stroke-width="0.6"/>
<circle cx="141.66" cy="334.60" r="1.25" fill="#d42060" stroke="none" stroke-width="0.6"/>
<line x1="38.50" y1="326.40" x2="38.50" y2="399.70" stroke="#1a1a1a" stroke-width="1" stroke-linecap="butt"/>
<line x1="38.00" y1="399.20" x2="145.00" y2="399.20" stroke="#1a1a1a" stroke-width="1" stroke-linecap="butt"/>
<line x1="35.50" y1="326.40" x2="38.50" y2="326.40" stroke="#1a1a1a" stroke-width="0.9" stroke-linecap="butt"/>
<text x="32.19" y="329.17" font-size="7.70" fill="#161616" stroke="#161616" stroke-width="0.2" text-anchor="end">5,000</text>
<line x1="35.50" y1="340.96" x2="38.50" y2="340.96" stroke="#1a1a1a" stroke-width="0.9" stroke-linecap="butt"/>
<text x="32.19" y="343.73" font-size="7.70" fill="#161616" stroke="#161616" stroke-width="0.2" text-anchor="end">4,000</text>
<line x1="35.50" y1="355.52" x2="38.50" y2="355.52" stroke="#1a1a1a" stroke-width="0.9" stroke-linecap="butt"/>
<text x="32.19" y="358.29" font-size="7.70" fill="#161616" stroke="#161616" stroke-width="0.2" text-anchor="end">3,000</text>
<line x1="35.50" y1="370.08" x2="38.50" y2="370.08" stroke="#1a1a1a" stroke-width="0.9" stroke-linecap="butt"/>
<text x="32.19" y="372.85" font-size="7.70" fill="#161616" stroke="#161616" stroke-width="0.2" text-anchor="end">2,000</text>
<line x1="35.50" y1="384.64" x2="38.50" y2="384.64" stroke="#1a1a1a" stroke-width="0.9" stroke-linecap="butt"/>
<text x="32.19" y="387.41" font-size="7.70" fill="#161616" stroke="#161616" stroke-width="0.2" text-anchor="end">1,000</text>
<line x1="35.50" y1="399.20" x2="38.50" y2="399.20" stroke="#1a1a1a" stroke-width="0.9" stroke-linecap="butt"/>
<text x="32.18" y="401.97" font-size="7.70" fill="#161616" stroke="#161616" stroke-width="0.2" text-anchor="end">0</text>
<line x1="47.15" y1="399.20" x2="47.15" y2="402.20" stroke="#1a1a1a" stroke-width="0.9" stroke-linecap="butt"/>
<line x1="60.28" y1="399.20" x2="60.28" y2="402.20" stroke="#1a1a1a" stroke-width="0.9" stroke-linecap="butt"/>
<line x1="73.41" y1="399.20" x2="73.41" y2="402.20" stroke="#1a1a1a" stroke-width="0.9" stroke-linecap="butt"/>
<line x1="86.54" y1="399.20" x2="86.54" y2="402.20" stroke="#1a1a1a" stroke-width="0.9" stroke-linecap="butt"/>
<line x1="99.67" y1="399.20" x2="99.67" y2="402.20" stroke="#1a1a1a" stroke-width="0.9" stroke-linecap="butt"/>
<line x1="112.80" y1="399.20" x2="112.80" y2="402.20" stroke="#1a1a1a" stroke-width="0.9" stroke-linecap="butt"/>
<line x1="125.93" y1="399.20" x2="125.93" y2="402.20" stroke="#1a1a1a" stroke-width="0.9" stroke-linecap="butt"/>
<line x1="139.06" y1="399.20" x2="139.06" y2="402.20" stroke="#1a1a1a" stroke-width="0.9" stroke-linecap="butt"/>
<text transform="translate(50.25,402.89) rotate(-90)" font-size="8.60" fill="#161616" stroke="#161616" stroke-width="0.2" text-anchor="end">0</text>
<text transform="translate(63.38,402.83) rotate(-90)" font-size="8.60" fill="#161616" stroke="#161616" stroke-width="0.2" text-anchor="end">0.156</text>
<text transform="translate(76.51,402.83) rotate(-90)" font-size="8.60" fill="#161616" stroke="#161616" stroke-width="0.2" text-anchor="end">0.625</text>
<text transform="translate(89.64,402.84) rotate(-90)" font-size="8.60" fill="#161616" stroke="#161616" stroke-width="0.2" text-anchor="end">1.25</text>
<text transform="translate(102.77,402.85) rotate(-90)" font-size="8.60" fill="#161616" stroke="#161616" stroke-width="0.2" text-anchor="end">2.5</text>
<text transform="translate(115.90,402.85) rotate(-90)" font-size="8.60" fill="#161616" stroke="#161616" stroke-width="0.2" text-anchor="end">5</text>
<text transform="translate(129.03,402.88) rotate(-90)" font-size="8.60" fill="#161616" stroke="#161616" stroke-width="0.2" text-anchor="end">10</text>
<text transform="translate(142.16,436.78) rotate(-90)" font-size="8.60" fill="#161616" stroke="#161616" stroke-width="0.2" textLength="33.85" lengthAdjust="spacingAndGlyphs"><tspan>PP2Ac</tspan><tspan dy="-3.44" font-size="5.68">KO</tspan></text>
<line x1="38.80" y1="431.10" x2="131.50" y2="431.10" stroke="#111" stroke-width="1.4" stroke-linecap="butt"/>
<text x="34.76" y="440.80" font-size="8.00" fill="#161616" stroke="#161616" stroke-width="0.2" textLength="99.08" lengthAdjust="spacingAndGlyphs"><tspan>PP2Ac</tspan><tspan dy="-3.20" font-size="5.28">WT</tspan><tspan dy="3.20"> + [LB-100] µmol/L</tspan></text>
<text transform="translate(7.10,386.84) rotate(-90)" font-size="8.00" fill="#161616" stroke="#161616" stroke-width="0.2" textLength="54.82" lengthAdjust="spacingAndGlyphs">MFI of live cells</text>
<line x1="154.80" y1="340.20" x2="269.30" y2="340.20" stroke="#c9c9c9" stroke-width="0.9" stroke-linecap="butt"/>
<line x1="154.80" y1="356.20" x2="269.30" y2="356.20" stroke="#c9c9c9" stroke-width="0.9" stroke-linecap="butt"/>
<line x1="154.80" y1="372.20" x2="269.30" y2="372.20" stroke="#c9c9c9" stroke-width="0.9" stroke-linecap="butt"/>
<line x1="154.80" y1="388.10" x2="269.30" y2="388.10" stroke="#c9c9c9" stroke-width="0.9" stroke-linecap="butt"/>
<line x1="154.80" y1="405.00" x2="269.30" y2="405.00" stroke="#c9c9c9" stroke-width="0.9" stroke-linecap="butt"/>
<path d="M191.90,339.90 L192.54,339.68 L193.46,339.37 L194.52,339.00 L195.58,338.61 L196.50,338.20 L197.27,337.81 L197.98,337.41 L198.65,336.68 L199.32,336.66 L200.00,335.70 L200.71,335.18 L201.43,334.52 L202.15,333.55 L202.84,332.54 L203.50,331.81 L204.11,331.05 L204.69,330.42 L205.25,329.25 L205.78,328.71 L206.30,327.65 L206.79,326.68 L207.25,325.91 L207.70,324.66 L208.14,323.62 L208.60,322.76 L209.08,321.96 L209.56,320.86 L210.04,320.17 L210.52,319.35 L211.00,318.61 L211.48,317.96 L211.97,317.08 L212.44,316.41 L212.89,315.70 L213.30,315.36 L213.66,314.63 L213.98,314.15 L214.27,313.68 L214.54,312.87 L214.80,312.84 L215.04,313.13 L215.25,313.36 L215.46,313.33 L215.67,313.65 L215.90,313.97 L216.16,313.56 L216.42,313.27 L216.70,312.72 L217.00,312.72 L217.30,312.67 L217.63,312.90 L217.98,312.80 L218.34,313.60 L218.69,314.08 L219.00,314.29 L219.26,315.26 L219.49,315.90 L219.71,316.07 L219.94,317.12 L220.20,317.34 L220.51,317.88 L220.84,318.63 L221.20,318.97 L221.55,319.01 L221.90,319.66 L222.24,320.23 L222.58,320.67 L222.91,321.15 L223.25,321.83 L223.60,322.73 L223.95,323.03 L224.29,324.12 L224.64,324.86 L225.01,325.45 L225.40,326.50 L225.83,327.58 L226.28,328.47 L226.76,329.18 L227.23,330.68 L227.70,331.47 L228.16,332.45 L228.62,332.77 L229.08,333.67 L229.54,334.31 L230.00,335.47 L230.44,335.84 L230.87,336.38 L231.30,337.15 L231.77,337.73 L232.30,338.20 L232.91,338.61 L233.58,338.95 L234.28,339.24 L235.00,339.49 L235.70,339.70 L236.45,339.87 L237.26,340.00 L238.05,340.08 L238.72,340.15 L239.20,340.20 Z" fill="url(#pk)" stroke="#e5689f" stroke-width="0.6" stroke-linejoin="round"/>
<path d="M212.00,356.20 L212.27,355.72 L212.65,355.08 L213.09,354.28 L213.56,353.32 L214.00,352.45 L214.42,350.98 L214.84,348.93 L215.27,347.06 L215.72,345.83 L216.20,344.24 L216.72,343.28 L217.27,342.08 L217.84,341.39 L218.42,341.24 L219.00,340.66 L219.59,340.15 L220.19,340.54 L220.79,340.33 L221.40,340.49 L222.00,340.15 L222.62,340.75 L223.25,340.49 L223.87,341.23 L224.46,341.31 L225.00,341.60 L225.46,342.13 L225.85,342.80 L226.21,342.90 L226.58,343.36 L227.00,344.22 L227.48,344.75 L227.99,345.47 L228.51,346.34 L229.02,347.12 L229.50,348.02 L229.91,348.85 L230.28,349.60 L230.64,350.62 L231.04,351.09 L231.50,352.00 L232.10,352.69 L232.81,353.85 L233.53,354.80 L234.16,355.62 L234.60,356.20 Z" fill="#e4e4e4" stroke="#d4d4d4" stroke-width="0.5" stroke-linejoin="round"/>
<path d="M185.40,372.20 L186.45,371.74 L187.93,371.14 L189.65,370.36 L191.44,369.36 L193.10,368.01 L194.68,366.20 L196.29,364.41 L197.89,362.15 L199.41,360.39 L200.80,358.13 L202.06,355.71 L203.22,353.52 L204.29,351.47 L205.28,348.84 L206.20,347.49 L207.02,345.80 L207.74,344.57 L208.40,343.78 L209.04,342.87 L209.70,342.70 L210.37,343.04 L211.01,343.87 L211.66,344.48 L212.34,346.04 L213.10,347.42 L213.94,349.17 L214.85,351.19 L215.80,353.51 L216.76,355.68 L217.70,357.88 L218.59,359.85 L219.46,362.25 L220.34,363.86 L221.28,365.56 L222.30,367.05 L223.54,368.84 L224.96,369.80 L226.39,370.80 L227.63,371.60 L228.50,372.20 Z" fill="#cbcbcb" stroke="#b2b2b2" stroke-width="0.6" stroke-linejoin="round"/>
<path d="M188.50,388.10 L189.59,387.48 L191.14,386.66 L192.92,385.62 L194.69,384.53 L196.20,382.80 L197.45,380.50 L198.60,377.97 L199.65,375.30 L200.62,372.75 L201.50,370.19 L202.27,368.22 L202.94,366.03 L203.52,364.52 L204.07,362.84 L204.60,361.23 L205.10,360.07 L205.54,359.84 L205.96,359.03 L206.40,358.83 L206.90,358.50 L207.47,358.68 L208.08,358.81 L208.72,359.08 L209.37,359.40 L210.00,360.40 L210.60,361.31 L211.17,363.01 L211.75,364.69 L212.38,366.80 L213.10,368.53 L213.90,370.58 L214.76,373.02 L215.68,375.29 L216.66,377.70 L217.70,379.62 L218.85,381.46 L220.10,382.99 L221.39,384.44 L222.65,385.52 L223.80,386.50 L224.90,387.18 L226.01,387.60 L227.03,387.83 L227.88,387.97 L228.50,388.10 Z" fill="#b3b3b3" stroke="#939393" stroke-width="0.6" stroke-linejoin="round"/>
<path d="M185.40,405.00 L186.03,404.31 L186.91,403.37 L187.94,402.24 L189.01,401.11 L190.00,399.56 L190.92,398.07 L191.84,396.73 L192.76,394.68 L193.68,393.12 L194.60,391.26 L195.54,389.05 L196.51,387.23 L197.47,385.10 L198.38,382.98 L199.20,381.29 L199.93,379.86 L200.59,378.31 L201.19,377.36 L201.76,376.46 L202.30,375.93 L202.80,375.52 L203.24,375.36 L203.66,375.30 L204.10,375.63 L204.60,375.87 L205.16,376.31 L205.75,376.68 L206.37,377.32 L207.02,378.29 L207.70,379.54 L208.40,380.93 L209.13,383.02 L209.88,384.88 L210.67,386.92 L211.50,388.85 L212.38,390.79 L213.32,392.70 L214.28,394.46 L215.25,396.61 L216.20,398.20 L217.13,399.49 L218.05,400.74 L218.96,401.87 L219.88,402.73 L220.80,403.50 L221.79,404.07 L222.86,404.45 L223.89,404.70 L224.77,404.86 L225.40,405.00 Z" fill="#8c8c8c" stroke="#3c3c3c" stroke-width="0.7" stroke-linejoin="round"/>
<path d="M176.90,420.20 L177.65,418.53 L178.71,416.17 L179.94,413.41 L181.18,410.56 L182.30,407.90 L183.30,405.30 L184.27,402.57 L185.21,399.91 L186.09,397.52 L186.90,395.60 L187.62,394.24 L188.25,393.29 L188.83,392.64 L189.40,392.18 L190.00,391.80 L190.61,391.45 L191.21,391.20 L191.81,391.12 L192.44,391.30 L193.10,391.80 L193.81,392.73 L194.56,394.02 L195.34,395.55 L196.12,397.16 L196.90,398.70 L197.66,400.19 L198.42,401.72 L199.18,403.28 L199.97,404.85 L200.80,406.40 L201.66,407.98 L202.55,409.60 L203.47,411.19 L204.42,412.71 L205.40,414.10 L206.50,415.39 L207.70,416.61 L208.90,417.72 L209.98,418.67 L210.80,419.40 L211.33,419.86 L211.64,420.08 L211.81,420.15 L211.90,420.16 L212.00,420.20" fill="none" stroke="#111" stroke-width="1.1" stroke-dasharray="1.1,1.0"/>
<rect x="154.80" y="305.40" width="114.50" height="115.20" fill="none" stroke="#9a9a9a" stroke-width="1"/>
<text x="233.25" y="315.00" font-size="8.60" fill="#de4490"><tspan textLength="24.67" lengthAdjust="spacingAndGlyphs">PP2Ac</tspan><tspan dy="-3.44" font-size="5.68">KO</tspan></text>
<text x="233.25" y="349.00" font-size="8.60" fill="#8a8a8a"><tspan textLength="24.67" lengthAdjust="spacingAndGlyphs">PP2Ac</tspan><tspan dy="-3.44" font-size="5.68">WT</tspan></text>
<text x="247.67" y="414.00" font-size="8.60" fill="#1a1a1a" stroke="#1a1a1a" stroke-width="0.08" textLength="17.39" lengthAdjust="spacingAndGlyphs">FMO</text>
<line x1="284.00" y1="343.50" x2="284.00" y2="397.50" stroke="#111" stroke-width="1" stroke-linecap="butt"/>
<path d="M282.10,344.20 L284.00,340.70 L285.90,344.20 Z" fill="#111"/>
<path d="M282.10,396.80 L284.00,400.30 L285.90,396.80 Z" fill="#111"/>
<text x="287.75" y="355.00" font-size="7.40" fill="#1a1a1a" stroke="#1a1a1a" stroke-width="0.05" textLength="8.23" lengthAdjust="spacingAndGlyphs">10</text>
<text x="287.95" y="370.60" font-size="7.40" fill="#1a1a1a" stroke="#1a1a1a" stroke-width="0.05" textLength="9.62" lengthAdjust="spacingAndGlyphs">2.5</text>
<text x="285.75" y="385.60" font-size="7.40" fill="#1a1a1a" stroke="#1a1a1a" stroke-width="0.05" textLength="14.25" lengthAdjust="spacingAndGlyphs">1.25</text>
<text x="290.02" y="398.20" font-size="7.40" fill="#1a1a1a" stroke="#1a1a1a" stroke-width="0.05" textLength="3.94" lengthAdjust="spacingAndGlyphs">0</text>
<text transform="translate(280.00,401.27) rotate(-90)" font-size="7.60" fill="#161616" stroke="#161616" stroke-width="0.2" textLength="62.21" lengthAdjust="spacingAndGlyphs">[LB-100] - µmol/L</text>
<line x1="154.80" y1="426.20" x2="178.50" y2="426.20" stroke="#000" stroke-width="2.0" stroke-linecap="butt"/>
<path d="M176.5,423.0 L182.8,426.2 L176.5,429.4 Z" fill="#000"/>
<text x="158.05" y="440.20" font-size="11.20" fill="#161616" stroke="#161616" stroke-width="0.2" textLength="40.56" lengthAdjust="spacingAndGlyphs">pSTAT1</text>
<text x="1.08" y="471.00" font-size="11.50" fill="#000" font-weight="bold" textLength="9.06" lengthAdjust="spacingAndGlyphs">H</text>
<text x="78.31" y="473.30" font-size="9.70" fill="#161616" stroke="#161616" stroke-width="0.2" textLength="28.62" lengthAdjust="spacingAndGlyphs">MHC-I</text>
<rect x="47.90" y="554.30" width="6.80" height="1.80" fill="#7e7e7e" stroke="#000000" stroke-width="1.0"/>
<circle cx="48.70" cy="554.10" r="1.25" fill="#000000" stroke="none" stroke-width="0.6"/>
<circle cx="51.30" cy="553.90" r="1.25" fill="#000000" stroke="none" stroke-width="0.6"/>
<circle cx="53.90" cy="554.10" r="1.25" fill="#000000" stroke="none" stroke-width="0.6"/>
<rect x="60.72" y="554.30" width="6.80" height="1.80" fill="#898989" stroke="#0e0e0e" stroke-width="1.0"/>
<circle cx="61.52" cy="554.10" r="1.25" fill="#0e0e0e" stroke="none" stroke-width="0.6"/>
<circle cx="64.12" cy="553.90" r="1.25" fill="#0e0e0e" stroke="none" stroke-width="0.6"/>
<circle cx="66.72" cy="554.10" r="1.25" fill="#0e0e0e" stroke="none" stroke-width="0.6"/>
<rect x="73.54" y="551.90" width="6.80" height="4.20" fill="#949494" stroke="#262626" stroke-width="1.0"/>
<circle cx="74.34" cy="552.20" r="1.25" fill="#262626" stroke="none" stroke-width="0.6"/>
<circle cx="76.94" cy="551.40" r="1.25" fill="#262626" stroke="none" stroke-width="0.6"/>
<circle cx="79.54" cy="552.10" r="1.25" fill="#262626" stroke="none" stroke-width="0.6"/>
<rect x="86.36" y="547.60" width="6.80" height="8.50" fill="#a6a6a6" stroke="#4a4a4a" stroke-width="1.0"/>
<circle cx="87.16" cy="547.90" r="1.25" fill="#4a4a4a" stroke="none" stroke-width="0.6"/>
<circle cx="89.76" cy="547.10" r="1.25" fill="#4a4a4a" stroke="none" stroke-width="0.6"/>
<circle cx="92.36" cy="547.80" r="1.25" fill="#4a4a4a" stroke="none" stroke-width="0.6"/>
<rect x="99.18" y="535.40" width="6.80" height="20.70" fill="#b5b5b5" stroke="#6a6a6a" stroke-width="1.0"/>
<circle cx="99.98" cy="535.70" r="1.25" fill="#6a6a6a" stroke="none" stroke-width="0.6"/>
<circle cx="102.58" cy="534.90" r="1.25" fill="#6a6a6a" stroke="none" stroke-width="0.6"/>
<circle cx="105.18" cy="535.60" r="1.25" fill="#6a6a6a" stroke="none" stroke-width="0.6"/>
<rect x="112.00" y="499.60" width="6.80" height="56.50" fill="#c2c2c2" stroke="#858585" stroke-width="1.0"/>
<circle cx="113.00" cy="500.10" r="1.25" fill="#858585" stroke="none" stroke-width="0.6"/>
<circle cx="115.20" cy="498.20" r="1.25" fill="#858585" stroke="none" stroke-width="0.6"/>
<circle cx="117.80" cy="500.40" r="1.25" fill="#858585" stroke="none" stroke-width="0.6"/>
<rect x="124.82" y="509.50" width="6.80" height="46.60" fill="#cbcbcb" stroke="#969696" stroke-width="1.0"/>
<circle cx="125.82" cy="503.20" r="1.25" fill="#969696" stroke="none" stroke-width="0.6"/>
<circle cx="130.02" cy="505.20" r="1.25" fill="#969696" stroke="none" stroke-width="0.6"/>
<circle cx="127.92" cy="514.60" r="1.25" fill="#969696" stroke="none" stroke-width="0.6"/>
<rect x="137.64" y="514.30" width="6.80" height="41.80" fill="#f788b3" stroke="#ec6b9b" stroke-width="1.0"/>
<circle cx="138.64" cy="514.90" r="1.25" fill="#d42060" stroke="none" stroke-width="0.6"/>
<circle cx="141.04" cy="514.00" r="1.25" fill="#d42060" stroke="none" stroke-width="0.6"/>
<circle cx="143.44" cy="514.40" r="1.25" fill="#d42060" stroke="none" stroke-width="0.6"/>
<line x1="42.50" y1="485.00" x2="42.50" y2="556.60" stroke="#1a1a1a" stroke-width="1" stroke-linecap="butt"/>
<line x1="42.00" y1="556.10" x2="147.00" y2="556.10" stroke="#1a1a1a" stroke-width="1" stroke-linecap="butt"/>
<line x1="39.50" y1="496.10" x2="42.50" y2="496.10" stroke="#1a1a1a" stroke-width="0.9" stroke-linecap="butt"/>
<text x="36.76" y="498.87" font-size="7.70" fill="#161616" stroke="#161616" stroke-width="0.2" text-anchor="end">10,000</text>
<line x1="39.50" y1="526.05" x2="42.50" y2="526.05" stroke="#1a1a1a" stroke-width="0.9" stroke-linecap="butt"/>
<text x="36.79" y="528.82" font-size="7.70" fill="#161616" stroke="#161616" stroke-width="0.2" text-anchor="end">5,000</text>
<line x1="39.50" y1="556.00" x2="42.50" y2="556.00" stroke="#1a1a1a" stroke-width="0.9" stroke-linecap="butt"/>
<text x="36.78" y="558.77" font-size="7.70" fill="#161616" stroke="#161616" stroke-width="0.2" text-anchor="end">0</text>
<line x1="51.30" y1="556.10" x2="51.30" y2="559.10" stroke="#1a1a1a" stroke-width="0.9" stroke-linecap="butt"/>
<line x1="64.12" y1="556.10" x2="64.12" y2="559.10" stroke="#1a1a1a" stroke-width="0.9" stroke-linecap="butt"/>
<line x1="76.94" y1="556.10" x2="76.94" y2="559.10" stroke="#1a1a1a" stroke-width="0.9" stroke-linecap="butt"/>
<line x1="89.76" y1="556.10" x2="89.76" y2="559.10" stroke="#1a1a1a" stroke-width="0.9" stroke-linecap="butt"/>
<line x1="102.58" y1="556.10" x2="102.58" y2="559.10" stroke="#1a1a1a" stroke-width="0.9" stroke-linecap="butt"/>
<line x1="115.40" y1="556.10" x2="115.40" y2="559.10" stroke="#1a1a1a" stroke-width="0.9" stroke-linecap="butt"/>
<line x1="128.22" y1="556.10" x2="128.22" y2="559.10" stroke="#1a1a1a" stroke-width="0.9" stroke-linecap="butt"/>
<line x1="141.04" y1="556.10" x2="141.04" y2="559.10" stroke="#1a1a1a" stroke-width="0.9" stroke-linecap="butt"/>
<text transform="translate(54.47,559.98) rotate(-90)" font-size="8.80" fill="#161616" stroke="#161616" stroke-width="0.2" text-anchor="end">0</text>
<text transform="translate(67.29,559.93) rotate(-90)" font-size="8.80" fill="#161616" stroke="#161616" stroke-width="0.2" text-anchor="end">0.156</text>
<text transform="translate(80.11,559.93) rotate(-90)" font-size="8.80" fill="#161616" stroke="#161616" stroke-width="0.2" text-anchor="end">0.625</text>
<text transform="translate(92.93,559.94) rotate(-90)" font-size="8.80" fill="#161616" stroke="#161616" stroke-width="0.2" text-anchor="end">1.25</text>
<text transform="translate(105.75,559.95) rotate(-90)" font-size="8.80" fill="#161616" stroke="#161616" stroke-width="0.2" text-anchor="end">2.5</text>
<text transform="translate(118.57,559.94) rotate(-90)" font-size="8.80" fill="#161616" stroke="#161616" stroke-width="0.2" text-anchor="end">5</text>
<text transform="translate(131.39,559.97) rotate(-90)" font-size="8.80" fill="#161616" stroke="#161616" stroke-width="0.2" text-anchor="end">10</text>
<text transform="translate(144.21,598.06) rotate(-90)" font-size="8.80" fill="#161616" stroke="#161616" stroke-width="0.2" textLength="38.07" lengthAdjust="spacingAndGlyphs"><tspan>PP2Ac</tspan><tspan dy="-3.52" font-size="5.81">KO</tspan></text>
<line x1="41.30" y1="587.60" x2="134.40" y2="587.60" stroke="#111" stroke-width="1.4" stroke-linecap="butt"/>
<text x="38.87" y="597.80" font-size="7.90" fill="#161616" stroke="#161616" stroke-width="0.2" textLength="96.46" lengthAdjust="spacingAndGlyphs"><tspan>PP2Ac</tspan><tspan dy="-3.16" font-size="5.21">WT</tspan><tspan dy="3.16"> + [LB-100] µmol/L</tspan></text>
<line x1="128.22" y1="504.60" x2="128.22" y2="514.60" stroke="#555" stroke-width="0.9" stroke-linecap="butt"/>
<line x1="126.52" y1="504.60" x2="129.92" y2="504.60" stroke="#555" stroke-width="0.9" stroke-linecap="butt"/>
<text transform="translate(7.80,543.94) rotate(-90)" font-size="8.00" fill="#161616" stroke="#161616" stroke-width="0.2" textLength="55.12" lengthAdjust="spacingAndGlyphs">MFI of live cells</text>
<line x1="156.00" y1="497.30" x2="269.00" y2="497.30" stroke="#c9c9c9" stroke-width="0.9" stroke-linecap="butt"/>
<line x1="156.00" y1="512.80" x2="269.00" y2="512.80" stroke="#c9c9c9" stroke-width="0.9" stroke-linecap="butt"/>
<line x1="156.00" y1="528.40" x2="269.00" y2="528.40" stroke="#c9c9c9" stroke-width="0.9" stroke-linecap="butt"/>
<line x1="156.00" y1="544.60" x2="269.00" y2="544.60" stroke="#c9c9c9" stroke-width="0.9" stroke-linecap="butt"/>
<line x1="156.00" y1="560.60" x2="269.00" y2="560.60" stroke="#c9c9c9" stroke-width="0.9" stroke-linecap="butt"/>
<path d="M175.00,496.70 L175.64,496.33 L176.55,495.81 L177.60,495.21 L178.66,494.58 L179.60,493.57 L180.40,493.68 L181.15,492.61 L181.87,491.87 L182.58,491.53 L183.30,491.53 L184.02,490.62 L184.74,490.82 L185.46,490.76 L186.18,490.02 L186.90,489.68 L187.63,489.60 L188.37,489.68 L189.12,489.67 L189.86,489.40 L190.60,489.24 L191.34,488.43 L192.08,488.22 L192.83,488.01 L193.57,488.18 L194.30,487.40 L195.02,487.33 L195.74,486.43 L196.46,486.12 L197.18,485.96 L197.90,485.97 L198.64,485.58 L199.38,485.13 L200.12,484.30 L200.86,484.08 L201.60,483.56 L202.32,483.12 L203.04,482.34 L203.76,482.66 L204.48,481.47 L205.20,481.68 L205.95,480.97 L206.72,479.30 L207.49,478.96 L208.22,478.54 L208.90,477.97 L209.51,476.77 L210.07,475.92 L210.59,475.23 L211.10,475.37 L211.60,474.11 L212.10,474.00 L212.59,473.11 L213.07,473.10 L213.54,473.23 L214.00,472.23 L214.44,472.95 L214.87,472.85 L215.29,473.50 L215.73,473.51 L216.20,473.03 L216.71,473.39 L217.26,472.47 L217.82,471.42 L218.37,470.89 L218.90,471.09 L219.40,471.00 L219.89,470.95 L220.37,471.00 L220.84,471.49 L221.30,471.82 L221.74,472.74 L222.17,472.36 L222.59,473.65 L223.03,474.38 L223.50,474.42 L224.01,476.14 L224.54,476.98 L225.09,478.31 L225.65,478.89 L226.20,480.17 L226.76,481.44 L227.32,483.38 L227.88,484.32 L228.44,485.38 L229.00,486.63 L229.54,487.53 L230.08,488.29 L230.62,489.25 L231.16,490.83 L231.70,491.09 L232.24,492.50 L232.77,492.52 L233.32,493.19 L233.89,494.01 L234.50,494.50 L235.14,494.90 L235.79,495.21 L236.48,495.45 L237.25,495.64 L238.10,495.80 L239.05,495.91 L240.08,495.95 L241.18,495.96 L242.35,495.96 L243.60,496.00 L244.97,496.06 L246.48,496.12 L248.02,496.19 L249.53,496.28 L250.90,496.40 L252.20,496.56 L253.49,496.77 L254.68,496.98 L255.68,497.17 L256.40,497.30 Z" fill="url(#pk)" stroke="#e5689f" stroke-width="0.6" stroke-linejoin="round"/>
<path d="M176.00,512.80 L176.42,512.22 L177.02,511.39 L177.71,510.45 L178.40,509.23 L179.00,508.67 L179.50,508.69 L179.95,508.12 L180.38,507.64 L180.83,507.14 L181.30,507.21 L181.82,507.21 L182.38,506.97 L182.94,507.34 L183.49,506.84 L184.00,507.53 L184.45,507.05 L184.84,507.00 L185.23,506.50 L185.67,505.79 L186.20,505.35 L186.86,506.25 L187.60,505.63 L188.40,506.19 L189.21,506.20 L190.00,506.10 L190.77,506.24 L191.55,506.02 L192.32,504.74 L193.08,504.54 L193.80,503.60 L194.47,503.26 L195.08,502.43 L195.69,501.55 L196.32,500.94 L197.00,500.51 L197.75,500.87 L198.54,500.23 L199.36,499.79 L200.19,500.34 L201.00,500.30 L201.76,499.62 L202.49,499.20 L203.24,499.17 L204.06,498.98 L205.00,499.14 L206.11,498.78 L207.34,498.79 L208.64,498.69 L209.95,498.91 L211.20,499.19 L212.39,499.09 L213.55,498.84 L214.71,498.97 L215.85,499.21 L217.00,499.18 L218.14,499.20 L219.28,498.94 L220.42,499.20 L221.56,500.01 L222.70,499.43 L223.89,500.21 L225.11,500.85 L226.32,501.70 L227.47,501.75 L228.50,502.57 L229.39,503.48 L230.17,504.72 L230.88,505.90 L231.58,507.45 L232.30,508.15 L233.01,508.71 L233.68,508.22 L234.36,508.47 L235.11,509.33 L236.00,509.70 L237.05,509.44 L238.23,509.66 L239.49,509.15 L240.76,509.61 L242.00,509.80 L243.20,509.88 L244.40,509.95 L245.60,510.03 L246.80,510.14 L248.00,510.30 L249.23,510.54 L250.50,510.85 L251.74,511.19 L252.93,511.52 L254.00,511.80 L254.99,512.05 L255.94,512.28 L256.78,512.50 L257.49,512.67 L258.00,512.80 Z" fill="#e4e4e4" stroke="#d2d2d2" stroke-width="0.5" stroke-linejoin="round"/>
<path d="M188.50,528.40 L188.77,527.58 L189.16,526.43 L189.60,525.51 L190.07,524.02 L190.50,522.76 L190.88,521.68 L191.24,519.78 L191.61,518.46 L192.02,517.30 L192.50,516.42 L193.09,515.22 L193.76,514.02 L194.46,512.35 L195.16,510.95 L195.80,509.96 L196.37,508.83 L196.91,508.31 L197.43,507.31 L197.95,507.63 L198.50,506.63 L199.07,506.85 L199.65,506.14 L200.25,505.40 L200.86,504.86 L201.50,504.65 L202.16,504.75 L202.83,504.58 L203.53,503.79 L204.25,503.56 L205.00,503.82 L205.82,503.67 L206.70,503.24 L207.59,502.87 L208.44,503.12 L209.20,502.51 L209.85,502.92 L210.41,503.31 L210.93,504.12 L211.45,504.17 L212.00,504.78 L212.59,504.76 L213.19,504.94 L213.79,505.42 L214.40,506.66 L215.00,507.00 L215.60,507.33 L216.21,507.86 L216.81,509.21 L217.41,510.26 L218.00,510.82 L218.57,511.38 L219.14,512.46 L219.70,513.38 L220.25,513.40 L220.80,514.03 L221.34,515.32 L221.87,516.51 L222.40,517.92 L222.94,518.57 L223.50,520.20 L224.09,521.08 L224.70,521.74 L225.32,522.28 L225.93,523.84 L226.50,523.91 L227.04,525.09 L227.55,525.11 L228.04,525.94 L228.52,526.45 L229.00,526.90 L229.51,527.31 L230.04,527.67 L230.56,527.97 L230.99,528.22 L231.30,528.40 Z" fill="#cacaca" stroke="#acacac" stroke-width="0.6" stroke-linejoin="round"/>
<path d="M182.30,544.60 L182.53,543.27 L182.84,541.19 L183.22,539.43 L183.61,536.72 L184.00,534.96 L184.38,532.25 L184.77,529.47 L185.18,526.94 L185.59,524.67 L186.00,522.73 L186.42,521.04 L186.84,518.58 L187.27,517.18 L187.69,515.78 L188.10,515.58 L188.46,514.68 L188.78,514.88 L189.11,515.47 L189.50,516.42 L190.00,517.42 L190.61,517.88 L191.29,518.23 L192.04,518.98 L192.88,519.56 L193.80,519.86 L194.83,520.79 L195.98,522.65 L197.18,523.82 L198.41,524.47 L199.60,525.93 L200.76,526.27 L201.92,526.55 L203.08,526.71 L204.24,526.87 L205.40,527.30 L206.56,528.42 L207.72,529.58 L208.89,531.29 L210.05,531.92 L211.20,533.87 L212.34,534.59 L213.48,536.11 L214.62,537.90 L215.76,539.25 L216.90,540.15 L218.15,540.94 L219.49,542.34 L220.79,543.27 L221.91,544.04 L222.70,544.60 Z" fill="#b2b2b2" stroke="#8e8e8e" stroke-width="0.6" stroke-linejoin="round"/>
<path d="M178.00,560.60 L178.18,559.60 L178.44,558.23 L178.73,556.56 L179.03,554.66 L179.30,552.60 L179.53,550.19 L179.75,547.39 L179.97,544.47 L180.18,541.71 L180.40,539.40 L180.62,537.55 L180.85,535.98 L181.08,534.65 L181.30,533.54 L181.50,532.60 L181.68,531.81 L181.84,531.20 L181.99,530.80 L182.14,530.66 L182.30,530.80 L182.47,531.26 L182.65,532.01 L182.83,533.02 L183.01,534.23 L183.20,535.60 L183.38,537.24 L183.54,539.19 L183.72,541.27 L183.93,543.32 L184.20,545.20 L184.51,546.92 L184.84,548.60 L185.22,550.19 L185.67,551.64 L186.20,552.90 L186.81,553.93 L187.49,554.77 L188.25,555.48 L189.08,556.10 L190.00,556.70 L191.00,557.27 L192.08,557.78 L193.25,558.23 L194.49,558.63 L195.80,559.00 L197.19,559.32 L198.66,559.60 L200.20,559.83 L201.81,560.03 L203.50,560.20 L205.44,560.34 L207.63,560.44 L209.80,560.51 L211.68,560.56 L213.00,560.60 Z" fill="#707070" stroke="#2e2e2e" stroke-width="0.7" stroke-linejoin="round"/>
<path d="M176.50,575.60 L176.84,573.69 L177.33,570.98 L177.89,567.84 L178.47,564.59 L179.00,561.60 L179.49,558.67 L180.00,555.56 L180.48,552.58 L180.93,549.99 L181.30,548.10 L181.59,547.04 L181.81,546.63 L181.98,546.65 L182.14,546.88 L182.30,547.10 L182.45,547.29 L182.59,547.58 L182.71,548.04 L182.85,548.69 L183.00,549.60 L183.16,550.82 L183.33,552.31 L183.51,553.99 L183.73,555.78 L184.00,557.60 L184.34,559.54 L184.73,561.65 L185.15,563.79 L185.58,565.82 L186.00,567.60 L186.40,569.12 L186.80,570.48 L187.20,571.68 L187.60,572.72 L188.00,573.60 L188.43,574.29 L188.90,574.78 L189.34,575.14 L189.73,575.39 L190.00,575.60" fill="none" stroke="#111" stroke-width="1.1" stroke-dasharray="1.1,1.0"/>
<path d="M178.50,575.60 L178.78,573.97 L179.18,571.66 L179.64,568.98 L180.10,566.19 L180.50,563.60 L180.84,561.06 L181.15,558.39 L181.44,555.79 L181.72,553.46 L182.00,551.60 L182.27,550.18 L182.52,549.06 L182.76,548.30 L183.02,547.96 L183.30,548.10 L183.60,548.86 L183.91,550.19 L184.24,551.89 L184.60,553.76 L185.00,555.60 L185.45,557.49 L185.94,559.56 L186.46,561.70 L186.99,563.75 L187.50,565.60 L188.01,567.26 L188.52,568.81 L189.04,570.23 L189.53,571.50 L190.00,572.60 L190.46,573.50 L190.93,574.23 L191.37,574.81 L191.74,575.26 L192.00,575.60" fill="none" stroke="#111" stroke-width="1.1" stroke-dasharray="1.1,1.0"/>
<rect x="156.00" y="463.40" width="113.00" height="112.30" fill="none" stroke="#9a9a9a" stroke-width="1"/>
<text x="233.66" y="471.70" font-size="8.60" fill="#de4490"><tspan textLength="24.56" lengthAdjust="spacingAndGlyphs">PP2Ac</tspan><tspan dy="-3.44" font-size="5.68">KO</tspan></text>
<text x="233.66" y="505.30" font-size="8.60" fill="#8a8a8a"><tspan textLength="24.56" lengthAdjust="spacingAndGlyphs">PP2Ac</tspan><tspan dy="-3.44" font-size="5.68">WT</tspan></text>
<text x="247.68" y="570.30" font-size="8.60" fill="#1a1a1a" stroke="#1a1a1a" stroke-width="0.08" textLength="17.18" lengthAdjust="spacingAndGlyphs">FMO</text>
<line x1="283.30" y1="500.50" x2="283.30" y2="554.80" stroke="#111" stroke-width="1" stroke-linecap="butt"/>
<path d="M281.40,501.20 L283.30,497.70 L285.20,501.20 Z" fill="#111"/>
<path d="M281.40,554.10 L283.30,557.60 L285.20,554.10 Z" fill="#111"/>
<text x="287.35" y="511.60" font-size="7.40" fill="#1a1a1a" stroke="#1a1a1a" stroke-width="0.05" textLength="8.23" lengthAdjust="spacingAndGlyphs">10</text>
<text x="287.55" y="527.40" font-size="7.40" fill="#1a1a1a" stroke="#1a1a1a" stroke-width="0.05" textLength="9.62" lengthAdjust="spacingAndGlyphs">2.5</text>
<text x="285.15" y="541.40" font-size="7.40" fill="#1a1a1a" stroke="#1a1a1a" stroke-width="0.05" textLength="14.36" lengthAdjust="spacingAndGlyphs">1.25</text>
<text x="289.52" y="554.40" font-size="7.40" fill="#1a1a1a" stroke="#1a1a1a" stroke-width="0.05" textLength="3.94" lengthAdjust="spacingAndGlyphs">0</text>
<text transform="translate(278.60,558.57) rotate(-90)" font-size="7.60" fill="#161616" stroke="#161616" stroke-width="0.2" textLength="63.02" lengthAdjust="spacingAndGlyphs">[LB-100] - µmol/L</text>
<line x1="156.00" y1="581.20" x2="178.50" y2="581.20" stroke="#000" stroke-width="2.0" stroke-linecap="butt"/>
<path d="M176.5,578.0 L182.8,581.2 L176.5,584.4 Z" fill="#000"/>
<text x="159.02" y="596.40" font-size="11.50" fill="#161616" stroke="#161616" stroke-width="0.2" textLength="35.32" lengthAdjust="spacingAndGlyphs">MHC-I</text>
<text x="323.47" y="351.10" font-size="11.50" fill="#000" font-weight="bold" textLength="10.37" lengthAdjust="spacingAndGlyphs">G</text>
<text x="370.67" y="350.80" font-size="9.60" fill="#161616" stroke="#161616" stroke-width="0.2" textLength="98.08" lengthAdjust="spacingAndGlyphs">IFN-stimulated genes</text>
<rect x="364.00" y="356.80" width="13.92" height="13.90" fill="#fffdfd" stroke="#261818" stroke-width="1.1"/>
<rect x="377.92" y="356.80" width="13.92" height="13.90" fill="#ffc9c2" stroke="#261818" stroke-width="1.1"/>
<rect x="391.84" y="356.80" width="13.92" height="13.90" fill="#ffb3aa" stroke="#261818" stroke-width="1.1"/>
<rect x="405.76" y="356.80" width="13.92" height="13.90" fill="#ff9d92" stroke="#261818" stroke-width="1.1"/>
<rect x="419.68" y="356.80" width="13.92" height="13.90" fill="#ff9286" stroke="#261818" stroke-width="1.1"/>
<rect x="433.60" y="356.80" width="13.92" height="13.90" fill="#ff8e81" stroke="#261818" stroke-width="1.1"/>
<rect x="447.52" y="356.80" width="13.92" height="13.90" fill="#ff7463" stroke="#261818" stroke-width="1.1"/>
<rect x="461.44" y="356.80" width="13.92" height="13.90" fill="#ff8577" stroke="#261818" stroke-width="1.1"/>
<text x="340.85" y="367.30" font-size="9.10" fill="#161616" stroke="#161616" stroke-width="0.2" textLength="20.74" lengthAdjust="spacingAndGlyphs">IFNβ</text>
<rect x="364.00" y="370.70" width="13.92" height="13.90" fill="#fffdfd" stroke="#261818" stroke-width="1.1"/>
<rect x="377.92" y="370.70" width="13.92" height="13.90" fill="#ffd4ce" stroke="#261818" stroke-width="1.1"/>
<rect x="391.84" y="370.70" width="13.92" height="13.90" fill="#ffbeb6" stroke="#261818" stroke-width="1.1"/>
<rect x="405.76" y="370.70" width="13.92" height="13.90" fill="#ffa89e" stroke="#261818" stroke-width="1.1"/>
<rect x="419.68" y="370.70" width="13.92" height="13.90" fill="#ff9286" stroke="#261818" stroke-width="1.1"/>
<rect x="433.60" y="370.70" width="13.92" height="13.90" fill="#ff7868" stroke="#261818" stroke-width="1.1"/>
<rect x="447.52" y="370.70" width="13.92" height="13.90" fill="#ff5e4b" stroke="#261818" stroke-width="1.1"/>
<rect x="461.44" y="370.70" width="13.92" height="13.90" fill="#ff5a46" stroke="#261818" stroke-width="1.1"/>
<text x="326.13" y="380.80" font-size="9.10" fill="#161616" stroke="#161616" stroke-width="0.2" textLength="35.40" lengthAdjust="spacingAndGlyphs">CXCL10</text>
<rect x="364.00" y="384.60" width="13.92" height="13.90" fill="#fffdfd" stroke="#261818" stroke-width="1.1"/>
<rect x="377.92" y="384.60" width="13.92" height="13.90" fill="#ffe5e2" stroke="#261818" stroke-width="1.1"/>
<rect x="391.84" y="384.60" width="13.92" height="13.90" fill="#ffd4ce" stroke="#261818" stroke-width="1.1"/>
<rect x="405.76" y="384.60" width="13.92" height="13.90" fill="#ffb3aa" stroke="#261818" stroke-width="1.1"/>
<rect x="419.68" y="384.60" width="13.92" height="13.90" fill="#ff9286" stroke="#261818" stroke-width="1.1"/>
<rect x="433.60" y="384.60" width="13.92" height="13.90" fill="#ff513d" stroke="#261818" stroke-width="1.1"/>
<rect x="447.52" y="384.60" width="13.92" height="13.90" fill="#ff2d13" stroke="#261818" stroke-width="1.1"/>
<rect x="461.44" y="384.60" width="13.92" height="13.90" fill="#ff351d" stroke="#261818" stroke-width="1.1"/>
<text x="334.44" y="394.60" font-size="9.10" fill="#161616" stroke="#161616" stroke-width="0.2" textLength="27.14" lengthAdjust="spacingAndGlyphs">ISG15</text>
<rect x="364.00" y="398.50" width="13.92" height="13.90" fill="#fffdfd" stroke="#261818" stroke-width="1.1"/>
<rect x="377.92" y="398.50" width="13.92" height="13.90" fill="#ffe5e2" stroke="#261818" stroke-width="1.1"/>
<rect x="391.84" y="398.50" width="13.92" height="13.90" fill="#ffd4ce" stroke="#261818" stroke-width="1.1"/>
<rect x="405.76" y="398.50" width="13.92" height="13.90" fill="#ffb3aa" stroke="#261818" stroke-width="1.1"/>
<rect x="419.68" y="398.50" width="13.92" height="13.90" fill="#ff9286" stroke="#261818" stroke-width="1.1"/>
<rect x="433.60" y="398.50" width="13.92" height="13.90" fill="#ff705f" stroke="#261818" stroke-width="1.1"/>
<rect x="447.52" y="398.50" width="13.92" height="13.90" fill="#ff442e" stroke="#261818" stroke-width="1.1"/>
<rect x="461.44" y="398.50" width="13.92" height="13.90" fill="#ff4b35" stroke="#261818" stroke-width="1.1"/>
<text x="340.83" y="408.00" font-size="9.10" fill="#161616" stroke="#161616" stroke-width="0.2" textLength="20.87" lengthAdjust="spacingAndGlyphs">IRF7</text>
<rect x="364.00" y="412.40" width="13.92" height="13.90" fill="#fffdfd" stroke="#261818" stroke-width="1.1"/>
<rect x="377.92" y="412.40" width="13.92" height="13.90" fill="#ffe9e7" stroke="#261818" stroke-width="1.1"/>
<rect x="391.84" y="412.40" width="13.92" height="13.90" fill="#ffdedb" stroke="#261818" stroke-width="1.1"/>
<rect x="405.76" y="412.40" width="13.92" height="13.90" fill="#ffc2bb" stroke="#261818" stroke-width="1.1"/>
<rect x="419.68" y="412.40" width="13.92" height="13.90" fill="#ffa89e" stroke="#261818" stroke-width="1.1"/>
<rect x="433.60" y="412.40" width="13.92" height="13.90" fill="#ff8879" stroke="#261818" stroke-width="1.1"/>
<rect x="447.52" y="412.40" width="13.92" height="13.90" fill="#ff6350" stroke="#261818" stroke-width="1.1"/>
<rect x="461.44" y="412.40" width="13.92" height="13.90" fill="#ff705f" stroke="#261818" stroke-width="1.1"/>
<text x="340.84" y="421.50" font-size="9.10" fill="#161616" stroke="#161616" stroke-width="0.2" textLength="20.82" lengthAdjust="spacingAndGlyphs">IRF9</text>
<rect x="364.00" y="426.30" width="13.92" height="13.90" fill="#fffdfd" stroke="#261818" stroke-width="1.1"/>
<rect x="377.92" y="426.30" width="13.92" height="13.90" fill="#ffe9e7" stroke="#261818" stroke-width="1.1"/>
<rect x="391.84" y="426.30" width="13.92" height="13.90" fill="#ffdedb" stroke="#261818" stroke-width="1.1"/>
<rect x="405.76" y="426.30" width="13.92" height="13.90" fill="#ffbeb6" stroke="#261818" stroke-width="1.1"/>
<rect x="419.68" y="426.30" width="13.92" height="13.90" fill="#ff8577" stroke="#261818" stroke-width="1.1"/>
<rect x="433.60" y="426.30" width="13.92" height="13.90" fill="#ff6350" stroke="#261818" stroke-width="1.1"/>
<rect x="447.52" y="426.30" width="13.92" height="13.90" fill="#ff2f16" stroke="#261818" stroke-width="1.1"/>
<rect x="461.44" y="426.30" width="13.92" height="13.90" fill="#ff371f" stroke="#261818" stroke-width="1.1"/>
<text x="333.88" y="435.20" font-size="9.10" fill="#161616" stroke="#161616" stroke-width="0.2" textLength="27.78" lengthAdjust="spacingAndGlyphs">STAT1</text>
<rect x="364.00" y="440.20" width="13.92" height="13.90" fill="#fffdfd" stroke="#261818" stroke-width="1.1"/>
<rect x="377.92" y="440.20" width="13.92" height="13.90" fill="#ffeeec" stroke="#261818" stroke-width="1.1"/>
<rect x="391.84" y="440.20" width="13.92" height="13.90" fill="#ffd4ce" stroke="#261818" stroke-width="1.1"/>
<rect x="405.76" y="440.20" width="13.92" height="13.90" fill="#ffbeb6" stroke="#261818" stroke-width="1.1"/>
<rect x="419.68" y="440.20" width="13.92" height="13.90" fill="#ff8e81" stroke="#261818" stroke-width="1.1"/>
<rect x="433.60" y="440.20" width="13.92" height="13.90" fill="#ff705f" stroke="#261818" stroke-width="1.1"/>
<rect x="447.52" y="440.20" width="13.92" height="13.90" fill="#ff351d" stroke="#261818" stroke-width="1.1"/>
<rect x="461.44" y="440.20" width="13.92" height="13.90" fill="#ff2f16" stroke="#261818" stroke-width="1.1"/>
<text x="333.17" y="450.00" font-size="9.10" fill="#161616" stroke="#161616" stroke-width="0.2" textLength="28.55" lengthAdjust="spacingAndGlyphs">STAT2</text>
<rect x="364.00" y="454.10" width="13.92" height="13.90" fill="#ffffff" stroke="#261818" stroke-width="1.1"/>
<rect x="377.92" y="454.10" width="13.92" height="13.90" fill="#ffeeec" stroke="#261818" stroke-width="1.1"/>
<rect x="391.84" y="454.10" width="13.92" height="13.90" fill="#ffbeb6" stroke="#261818" stroke-width="1.1"/>
<rect x="405.76" y="454.10" width="13.92" height="13.90" fill="#ff9286" stroke="#261818" stroke-width="1.1"/>
<rect x="419.68" y="454.10" width="13.92" height="13.90" fill="#ff7d6d" stroke="#261818" stroke-width="1.1"/>
<rect x="433.60" y="454.10" width="13.92" height="13.90" fill="#ff705f" stroke="#261818" stroke-width="1.1"/>
<rect x="447.52" y="454.10" width="13.92" height="13.90" fill="#ff6350" stroke="#261818" stroke-width="1.1"/>
<rect x="461.44" y="454.10" width="13.92" height="13.90" fill="#ff705f" stroke="#261818" stroke-width="1.1"/>
<text x="331.81" y="463.80" font-size="9.10" fill="#161616" stroke="#161616" stroke-width="0.2" textLength="29.85" lengthAdjust="spacingAndGlyphs">TAPBP</text>
<rect x="364.00" y="468.00" width="13.92" height="13.90" fill="#fffdfd" stroke="#261818" stroke-width="1.1"/>
<rect x="377.92" y="468.00" width="13.92" height="13.90" fill="#ffdedb" stroke="#261818" stroke-width="1.1"/>
<rect x="391.84" y="468.00" width="13.92" height="13.90" fill="#ffd4ce" stroke="#261818" stroke-width="1.1"/>
<rect x="405.76" y="468.00" width="13.92" height="13.90" fill="#ffc9c2" stroke="#261818" stroke-width="1.1"/>
<rect x="419.68" y="468.00" width="13.92" height="13.90" fill="#ffb3aa" stroke="#261818" stroke-width="1.1"/>
<rect x="433.60" y="468.00" width="13.92" height="13.90" fill="#ffa499" stroke="#261818" stroke-width="1.1"/>
<rect x="447.52" y="468.00" width="13.92" height="13.90" fill="#ff8e81" stroke="#261818" stroke-width="1.1"/>
<rect x="461.44" y="468.00" width="13.92" height="13.90" fill="#ff9b8f" stroke="#261818" stroke-width="1.1"/>
<text x="330.34" y="478.00" font-size="9.10" fill="#161616" stroke="#161616" stroke-width="0.2" textLength="31.29" lengthAdjust="spacingAndGlyphs">ERAP1</text>
<rect x="364.00" y="481.90" width="13.92" height="13.90" fill="#fffdfd" stroke="#261818" stroke-width="1.1"/>
<rect x="377.92" y="481.90" width="13.92" height="13.90" fill="#ffdedb" stroke="#261818" stroke-width="1.1"/>
<rect x="391.84" y="481.90" width="13.92" height="13.90" fill="#ffd4ce" stroke="#261818" stroke-width="1.1"/>
<rect x="405.76" y="481.90" width="13.92" height="13.90" fill="#ffc9c2" stroke="#261818" stroke-width="1.1"/>
<rect x="419.68" y="481.90" width="13.92" height="13.90" fill="#ffbeb6" stroke="#261818" stroke-width="1.1"/>
<rect x="433.60" y="481.90" width="13.92" height="13.90" fill="#ffa499" stroke="#261818" stroke-width="1.1"/>
<rect x="447.52" y="481.90" width="13.92" height="13.90" fill="#ff8e81" stroke="#261818" stroke-width="1.1"/>
<rect x="461.44" y="481.90" width="13.92" height="13.90" fill="#ff9b8f" stroke="#261818" stroke-width="1.1"/>
<text x="342.09" y="492.00" font-size="9.10" fill="#161616" stroke="#161616" stroke-width="0.2" textLength="19.97" lengthAdjust="spacingAndGlyphs">β2M</text>
<rect x="364.00" y="495.80" width="13.92" height="13.90" fill="#fffdfd" stroke="#261818" stroke-width="1.1"/>
<rect x="377.92" y="495.80" width="13.92" height="13.90" fill="#ffd4ce" stroke="#261818" stroke-width="1.1"/>
<rect x="391.84" y="495.80" width="13.92" height="13.90" fill="#ffbeb6" stroke="#261818" stroke-width="1.1"/>
<rect x="405.76" y="495.80" width="13.92" height="13.90" fill="#ff9286" stroke="#261818" stroke-width="1.1"/>
<rect x="419.68" y="495.80" width="13.92" height="13.90" fill="#ff7d6d" stroke="#261818" stroke-width="1.1"/>
<rect x="433.60" y="495.80" width="13.92" height="13.90" fill="#ff6755" stroke="#261818" stroke-width="1.1"/>
<rect x="447.52" y="495.80" width="13.92" height="13.90" fill="#ff4d38" stroke="#261818" stroke-width="1.1"/>
<rect x="461.44" y="495.80" width="13.92" height="13.90" fill="#ff3c24" stroke="#261818" stroke-width="1.1"/>
<text x="339.32" y="505.80" font-size="9.10" fill="#161616" stroke="#161616" stroke-width="0.2" textLength="22.36" lengthAdjust="spacingAndGlyphs">TAP2</text>
<rect x="364.00" y="509.70" width="13.92" height="13.90" fill="#fffdfd" stroke="#261818" stroke-width="1.1"/>
<rect x="377.92" y="509.70" width="13.92" height="13.90" fill="#fff2f0" stroke="#261818" stroke-width="1.1"/>
<rect x="391.84" y="509.70" width="13.92" height="13.90" fill="#ffeeec" stroke="#261818" stroke-width="1.1"/>
<rect x="405.76" y="509.70" width="13.92" height="13.90" fill="#ffdedb" stroke="#261818" stroke-width="1.1"/>
<rect x="419.68" y="509.70" width="13.92" height="13.90" fill="#ffdcd8" stroke="#261818" stroke-width="1.1"/>
<rect x="433.60" y="509.70" width="13.92" height="13.90" fill="#ffc7c0" stroke="#261818" stroke-width="1.1"/>
<rect x="447.52" y="509.70" width="13.92" height="13.90" fill="#ffb1a8" stroke="#261818" stroke-width="1.1"/>
<rect x="461.44" y="509.70" width="13.92" height="13.90" fill="#ffa499" stroke="#261818" stroke-width="1.1"/>
<text x="330.34" y="519.70" font-size="9.10" fill="#161616" stroke="#161616" stroke-width="0.2" textLength="31.23" lengthAdjust="spacingAndGlyphs">NLRC5</text>
<rect x="364.00" y="523.60" width="13.92" height="13.90" fill="#fffdfd" stroke="#261818" stroke-width="1.1"/>
<rect x="377.92" y="523.60" width="13.92" height="13.90" fill="#ffe9e7" stroke="#261818" stroke-width="1.1"/>
<rect x="391.84" y="523.60" width="13.92" height="13.90" fill="#ffdedb" stroke="#261818" stroke-width="1.1"/>
<rect x="405.76" y="523.60" width="13.92" height="13.90" fill="#ffbeb6" stroke="#261818" stroke-width="1.1"/>
<rect x="419.68" y="523.60" width="13.92" height="13.90" fill="#ffa89e" stroke="#261818" stroke-width="1.1"/>
<rect x="433.60" y="523.60" width="13.92" height="13.90" fill="#ff8e81" stroke="#261818" stroke-width="1.1"/>
<rect x="447.52" y="523.60" width="13.92" height="13.90" fill="#ff5a46" stroke="#261818" stroke-width="1.1"/>
<rect x="461.44" y="523.60" width="13.92" height="13.90" fill="#ff4d38" stroke="#261818" stroke-width="1.1"/>
<text x="339.32" y="533.30" font-size="9.10" fill="#161616" stroke="#161616" stroke-width="0.2" textLength="22.31" lengthAdjust="spacingAndGlyphs">TAP1</text>
<rect x="364.00" y="356.80" width="111.36" height="180.70" fill="none" stroke="#141414" stroke-width="1.2"/>
<line x1="370.96" y1="537.50" x2="370.96" y2="541.70" stroke="#1a1a1a" stroke-width="1.1" stroke-linecap="butt"/>
<line x1="384.88" y1="537.50" x2="384.88" y2="541.70" stroke="#1a1a1a" stroke-width="1.1" stroke-linecap="butt"/>
<line x1="398.80" y1="537.50" x2="398.80" y2="541.70" stroke="#1a1a1a" stroke-width="1.1" stroke-linecap="butt"/>
<line x1="412.72" y1="537.50" x2="412.72" y2="541.70" stroke="#1a1a1a" stroke-width="1.1" stroke-linecap="butt"/>
<line x1="426.64" y1="537.50" x2="426.64" y2="541.70" stroke="#1a1a1a" stroke-width="1.1" stroke-linecap="butt"/>
<line x1="440.56" y1="537.50" x2="440.56" y2="541.70" stroke="#1a1a1a" stroke-width="1.1" stroke-linecap="butt"/>
<line x1="454.48" y1="537.50" x2="454.48" y2="541.70" stroke="#1a1a1a" stroke-width="1.1" stroke-linecap="butt"/>
<line x1="468.40" y1="537.50" x2="468.40" y2="541.70" stroke="#1a1a1a" stroke-width="1.1" stroke-linecap="butt"/>
<text transform="translate(374.20,544.17) rotate(-90)" font-size="9.00" fill="#161616" stroke="#161616" stroke-width="0.2" text-anchor="end">0</text>
<text transform="translate(388.12,544.12) rotate(-90)" font-size="9.00" fill="#161616" stroke="#161616" stroke-width="0.2" text-anchor="end">0.156</text>
<text transform="translate(402.04,544.12) rotate(-90)" font-size="9.00" fill="#161616" stroke="#161616" stroke-width="0.2" text-anchor="end">0.625</text>
<text transform="translate(415.96,544.13) rotate(-90)" font-size="9.00" fill="#161616" stroke="#161616" stroke-width="0.2" text-anchor="end">1.25</text>
<text transform="translate(429.88,544.14) rotate(-90)" font-size="9.00" fill="#161616" stroke="#161616" stroke-width="0.2" text-anchor="end">2.5</text>
<text transform="translate(443.80,544.13) rotate(-90)" font-size="9.00" fill="#161616" stroke="#161616" stroke-width="0.2" text-anchor="end">5</text>
<text transform="translate(457.72,544.16) rotate(-90)" font-size="9.00" fill="#161616" stroke="#161616" stroke-width="0.2" text-anchor="end">10</text>
<text transform="translate(471.00,582.99) rotate(-90)" font-size="8.80" fill="#161616" stroke="#161616" stroke-width="0.2" textLength="39.51" lengthAdjust="spacingAndGlyphs"><tspan>PP2Ac</tspan><tspan dy="-3.52" font-size="5.81">KO</tspan></text>
<line x1="364.20" y1="570.40" x2="461.70" y2="570.40" stroke="#111" stroke-width="1.4" stroke-linecap="butt"/>
<text x="358.83" y="580.70" font-size="7.90" fill="#161616" stroke="#161616" stroke-width="0.2" textLength="102.61" lengthAdjust="spacingAndGlyphs"><tspan>PP2Ac</tspan><tspan dy="-3.16" font-size="5.21">WT</tspan><tspan dy="3.16"> + [LB-100] µmol/L</tspan></text>
<defs><linearGradient id="cb" x1="0" y1="1" x2="0" y2="0"><stop offset="0" stop-color="#ffffff"/><stop offset="1" stop-color="#ff260c"/></linearGradient></defs>
<rect x="494.60" y="440.80" width="10.40" height="95.90" fill="url(#cb)" stroke="#1a1a1a" stroke-width="1.0"/>
<line x1="505.00" y1="441.30" x2="507.30" y2="441.30" stroke="#1a1a1a" stroke-width="0.9" stroke-linecap="butt"/>
<text x="509.00" y="444.00" font-size="7.60" fill="#161616" stroke="#161616" stroke-width="0.2">4</text>
<line x1="505.00" y1="464.80" x2="507.30" y2="464.80" stroke="#1a1a1a" stroke-width="0.9" stroke-linecap="butt"/>
<text x="509.00" y="467.50" font-size="7.60" fill="#161616" stroke="#161616" stroke-width="0.2">3</text>
<line x1="505.00" y1="488.30" x2="507.30" y2="488.30" stroke="#1a1a1a" stroke-width="0.9" stroke-linecap="butt"/>
<text x="509.00" y="491.00" font-size="7.60" fill="#161616" stroke="#161616" stroke-width="0.2">2</text>
<line x1="505.00" y1="511.80" x2="507.30" y2="511.80" stroke="#1a1a1a" stroke-width="0.9" stroke-linecap="butt"/>
<text x="509.00" y="514.50" font-size="7.60" fill="#161616" stroke="#161616" stroke-width="0.2">1</text>
<line x1="505.00" y1="535.30" x2="507.30" y2="535.30" stroke="#1a1a1a" stroke-width="0.9" stroke-linecap="butt"/>
<text x="509.00" y="538.00" font-size="7.60" fill="#161616" stroke="#161616" stroke-width="0.2">0</text>
<text x="480.6" y="432.4" font-size="10" fill="#161616" textLength="37.5" lengthAdjust="spacingAndGlyphs">log<tspan dy="2.6" font-size="6.6">2</tspan><tspan dy="-2.6"> (FC)</tspan></text>
</g></svg>
</body></html>
